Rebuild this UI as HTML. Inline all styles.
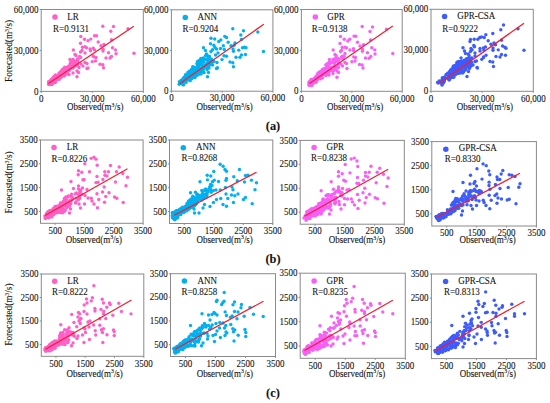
<!DOCTYPE html>
<html><head><meta charset="utf-8"><style>
html,body{margin:0;padding:0;background:#fff;}
svg{display:block;}
text{stroke:#141414;stroke-width:0.1px;}
</style></head><body>
<svg width="550" height="403" viewBox="0 0 550 403" font-family='"Liberation Serif", serif' font-size="9.7" fill="#141414">
<rect width="550" height="403" fill="#fff"/>
<rect x="41.2" y="9.5" width="102.1" height="81.9" fill="none" stroke="#8a8a8a" stroke-width="1"/>
<line x1="39.7" y1="91.4" x2="41.2" y2="91.4" stroke="#8a8a8a" stroke-width="1"/>
<text transform="translate(38.4,94.5) scale(0.9278,1)" text-anchor="end">0</text>
<line x1="39.7" y1="50.45" x2="41.2" y2="50.45" stroke="#8a8a8a" stroke-width="1"/>
<text transform="translate(38.4,53.55) scale(0.9278,1)" text-anchor="end">30,000</text>
<line x1="39.7" y1="9.5" x2="41.2" y2="9.5" stroke="#8a8a8a" stroke-width="1"/>
<text transform="translate(38.4,12.6) scale(0.9278,1)" text-anchor="end">60,000</text>
<line x1="41.2" y1="91.4" x2="41.2" y2="92.9" stroke="#8a8a8a" stroke-width="1"/>
<text transform="translate(41.2,101.6) scale(0.9278,1)" text-anchor="middle">0</text>
<line x1="92.25" y1="91.4" x2="92.25" y2="92.9" stroke="#8a8a8a" stroke-width="1"/>
<text transform="translate(92.25,101.6) scale(0.9278,1)" text-anchor="middle">30,000</text>
<line x1="143.3" y1="91.4" x2="143.3" y2="92.9" stroke="#8a8a8a" stroke-width="1"/>
<text transform="translate(143.3,101.6) scale(0.9278,1)" text-anchor="middle">60,000</text>
<text transform="translate(95.25,110) scale(0.9278,1)" text-anchor="middle">Observed(m<tspan font-size="6.3" dy="-3.4">3</tspan><tspan dy="3.4">/s)</tspan></text>
<g fill="#ff5fc8"><circle cx="80.8" cy="36.5" r="1.7"/><circle cx="84.5" cy="39.2" r="1.7"/><circle cx="88" cy="40.8" r="1.7"/><circle cx="90.75" cy="39.1" r="1.7"/><circle cx="94.5" cy="35.8" r="1.7"/><circle cx="80.5" cy="43.2" r="1.7"/><circle cx="82.5" cy="47.2" r="1.7"/><circle cx="85" cy="46.8" r="1.7"/><circle cx="86.5" cy="47.8" r="1.7"/><circle cx="90" cy="49" r="1.7"/><circle cx="93.25" cy="48.25" r="1.7"/><circle cx="73.35" cy="50" r="1.7"/><circle cx="102.8" cy="26.2" r="1.7"/><circle cx="113.5" cy="26.5" r="1.7"/><circle cx="110.8" cy="31.2" r="1.7"/><circle cx="128" cy="28.8" r="1.7"/><circle cx="96.5" cy="35.8" r="1.7"/><circle cx="98.2" cy="42" r="1.7"/><circle cx="111.5" cy="39.8" r="1.7"/><circle cx="101" cy="45.8" r="1.7"/><circle cx="104" cy="44.5" r="1.7"/><circle cx="94.5" cy="49.85" r="1.7"/><circle cx="112.5" cy="47.8" r="1.7"/><circle cx="115.5" cy="49.85" r="1.7"/><circle cx="103" cy="49.2" r="1.7"/><circle cx="75" cy="54.5" r="1.7"/><circle cx="76" cy="55.5" r="1.7"/><circle cx="80.5" cy="52" r="1.7"/><circle cx="82" cy="50.5" r="1.7"/><circle cx="85" cy="53" r="1.7"/><circle cx="90.5" cy="50.8" r="1.7"/><circle cx="70" cy="59.5" r="1.7"/><circle cx="73" cy="59.5" r="1.7"/><circle cx="78" cy="59" r="1.7"/><circle cx="85" cy="62.5" r="1.7"/><circle cx="87" cy="63.5" r="1.7"/><circle cx="92.25" cy="61.62" r="1.7"/><circle cx="95.5" cy="61" r="1.7"/><circle cx="94" cy="56.9" r="1.7"/><circle cx="81" cy="64" r="1.7"/><circle cx="83" cy="66" r="1.7"/><circle cx="87" cy="68.5" r="1.7"/><circle cx="88" cy="68" r="1.7"/><circle cx="79" cy="67.5" r="1.7"/><circle cx="77" cy="71" r="1.7"/><circle cx="78.5" cy="72.5" r="1.7"/><circle cx="73" cy="73" r="1.7"/><circle cx="77" cy="76.8" r="1.7"/><circle cx="68" cy="74" r="1.7"/><circle cx="69" cy="74.5" r="1.7"/><circle cx="93" cy="56" r="1.7"/><circle cx="103" cy="51" r="1.7"/><circle cx="108.5" cy="52.8" r="1.7"/><circle cx="116" cy="53.8" r="1.7"/><circle cx="134" cy="53.2" r="1.7"/><circle cx="96" cy="57.5" r="1.7"/><circle cx="106" cy="58" r="1.7"/><circle cx="110" cy="58" r="1.7"/><circle cx="111.5" cy="56.5" r="1.7"/><circle cx="100" cy="64.2" r="1.7"/><circle cx="102.8" cy="64.8" r="1.7"/><circle cx="103.5" cy="67.8" r="1.7"/></g>
<g fill="#ff5fc8"><circle cx="49" cy="81.37" r="1.7"/><circle cx="60.92" cy="71.5" r="1.7"/><circle cx="77.61" cy="59.22" r="1.7"/><circle cx="52.09" cy="83.01" r="1.7"/><circle cx="49.95" cy="83.91" r="1.7"/><circle cx="50.36" cy="81.3" r="1.7"/><circle cx="64.66" cy="70.07" r="1.7"/><circle cx="51.14" cy="80.65" r="1.7"/><circle cx="56.59" cy="77.71" r="1.7"/><circle cx="51.63" cy="82.49" r="1.7"/><circle cx="73.07" cy="63.86" r="1.7"/><circle cx="49.59" cy="83.33" r="1.7"/><circle cx="74.83" cy="61.95" r="1.7"/><circle cx="60.94" cy="77.54" r="1.7"/><circle cx="73.92" cy="60.56" r="1.7"/><circle cx="49.25" cy="83.52" r="1.7"/><circle cx="50.14" cy="83.03" r="1.7"/><circle cx="51.2" cy="83.61" r="1.7"/><circle cx="70.39" cy="63.22" r="1.7"/><circle cx="57.63" cy="76.84" r="1.7"/><circle cx="52.43" cy="80.51" r="1.7"/><circle cx="64.69" cy="67.2" r="1.7"/><circle cx="50.52" cy="81.72" r="1.7"/><circle cx="52.6" cy="79.43" r="1.7"/><circle cx="64.73" cy="72.82" r="1.7"/><circle cx="62.02" cy="70.53" r="1.7"/><circle cx="56.87" cy="78.85" r="1.7"/><circle cx="49.38" cy="82.53" r="1.7"/><circle cx="73.32" cy="60.34" r="1.7"/><circle cx="54.1" cy="80.52" r="1.7"/><circle cx="60.87" cy="72.99" r="1.7"/><circle cx="63.6" cy="70.48" r="1.7"/><circle cx="72.86" cy="60.29" r="1.7"/><circle cx="51.06" cy="81.72" r="1.7"/><circle cx="58.47" cy="74.67" r="1.7"/><circle cx="64.36" cy="71.05" r="1.7"/><circle cx="51.34" cy="82.51" r="1.7"/><circle cx="59.04" cy="75.15" r="1.7"/><circle cx="75.69" cy="63.19" r="1.7"/><circle cx="54.51" cy="76.39" r="1.7"/><circle cx="65.18" cy="67.89" r="1.7"/><circle cx="51.03" cy="80.47" r="1.7"/><circle cx="52.3" cy="78.75" r="1.7"/><circle cx="67.44" cy="66.99" r="1.7"/><circle cx="57.1" cy="76.47" r="1.7"/><circle cx="73.78" cy="64.55" r="1.7"/><circle cx="59.4" cy="77.64" r="1.7"/><circle cx="55.64" cy="78.13" r="1.7"/><circle cx="53.82" cy="76.91" r="1.7"/><circle cx="71.64" cy="64.56" r="1.7"/><circle cx="69.08" cy="68.75" r="1.7"/><circle cx="57.57" cy="78.32" r="1.7"/><circle cx="53.23" cy="77.55" r="1.7"/><circle cx="54.09" cy="81.79" r="1.7"/><circle cx="54.53" cy="76.45" r="1.7"/><circle cx="48.88" cy="82.34" r="1.7"/><circle cx="65.02" cy="74.41" r="1.7"/><circle cx="73.15" cy="68.06" r="1.7"/><circle cx="58.37" cy="78.32" r="1.7"/><circle cx="51.13" cy="80.32" r="1.7"/><circle cx="50.77" cy="83.72" r="1.7"/><circle cx="52.36" cy="79.13" r="1.7"/><circle cx="77.89" cy="61.55" r="1.7"/><circle cx="53.54" cy="81.57" r="1.7"/><circle cx="62" cy="75.67" r="1.7"/><circle cx="59.85" cy="75.34" r="1.7"/><circle cx="53.23" cy="80.4" r="1.7"/><circle cx="51.71" cy="84.6" r="1.7"/><circle cx="80.75" cy="57.4" r="1.7"/><circle cx="73.83" cy="62.75" r="1.7"/><circle cx="62.56" cy="69.31" r="1.7"/><circle cx="51.21" cy="79.94" r="1.7"/><circle cx="52.73" cy="81.24" r="1.7"/><circle cx="49.06" cy="81.74" r="1.7"/><circle cx="76.43" cy="61.31" r="1.7"/><circle cx="59.33" cy="77.36" r="1.7"/><circle cx="52.87" cy="81.56" r="1.7"/><circle cx="50.58" cy="83.49" r="1.7"/><circle cx="50.33" cy="83.65" r="1.7"/><circle cx="51.46" cy="81.78" r="1.7"/><circle cx="51.62" cy="80.68" r="1.7"/><circle cx="53.85" cy="80.54" r="1.7"/><circle cx="62.39" cy="71.36" r="1.7"/><circle cx="56.15" cy="80.27" r="1.7"/><circle cx="50.64" cy="82.77" r="1.7"/><circle cx="60.71" cy="76.72" r="1.7"/><circle cx="61.22" cy="75.43" r="1.7"/><circle cx="69.31" cy="70.3" r="1.7"/><circle cx="50.39" cy="84.44" r="1.7"/><circle cx="65.47" cy="69.1" r="1.7"/><circle cx="53.78" cy="80.4" r="1.7"/><circle cx="54.72" cy="82.64" r="1.7"/><circle cx="74.07" cy="61.33" r="1.7"/><circle cx="56.36" cy="76.18" r="1.7"/><circle cx="59.18" cy="73.07" r="1.7"/><circle cx="50.87" cy="84.1" r="1.7"/><circle cx="50.21" cy="81.52" r="1.7"/><circle cx="51.86" cy="81.04" r="1.7"/><circle cx="51.75" cy="79.56" r="1.7"/><circle cx="55.11" cy="78" r="1.7"/><circle cx="77.28" cy="63.69" r="1.7"/><circle cx="71.23" cy="61.22" r="1.7"/><circle cx="55.73" cy="80.88" r="1.7"/><circle cx="58.22" cy="77.07" r="1.7"/><circle cx="54.16" cy="76.68" r="1.7"/><circle cx="77.09" cy="62.84" r="1.7"/><circle cx="65.33" cy="69.7" r="1.7"/><circle cx="74.85" cy="64.93" r="1.7"/><circle cx="50.86" cy="81.9" r="1.7"/><circle cx="52.92" cy="80.52" r="1.7"/><circle cx="50.59" cy="83.32" r="1.7"/><circle cx="55.96" cy="78.84" r="1.7"/><circle cx="51.41" cy="80.9" r="1.7"/><circle cx="68.93" cy="67.72" r="1.7"/><circle cx="69.2" cy="65.67" r="1.7"/><circle cx="59.15" cy="79.4" r="1.7"/><circle cx="76.02" cy="65.73" r="1.7"/><circle cx="55.43" cy="75" r="1.7"/><circle cx="65.62" cy="71.93" r="1.7"/><circle cx="69.98" cy="66.1" r="1.7"/><circle cx="77.59" cy="64.72" r="1.7"/><circle cx="66.84" cy="72.59" r="1.7"/><circle cx="60.97" cy="74.52" r="1.7"/><circle cx="55.47" cy="81.97" r="1.7"/><circle cx="60.27" cy="76.87" r="1.7"/><circle cx="63.44" cy="75.79" r="1.7"/><circle cx="65" cy="75" r="1.7"/><circle cx="52.33" cy="82.19" r="1.7"/><circle cx="60.15" cy="77.01" r="1.7"/><circle cx="71.16" cy="67.73" r="1.7"/><circle cx="71.31" cy="68.1" r="1.7"/><circle cx="48.88" cy="82.15" r="1.7"/><circle cx="55.31" cy="76.39" r="1.7"/><circle cx="50.86" cy="80.85" r="1.7"/><circle cx="48.67" cy="84.45" r="1.7"/><circle cx="52.2" cy="82.34" r="1.7"/><circle cx="64.59" cy="75.75" r="1.7"/><circle cx="49.53" cy="82.25" r="1.7"/><circle cx="56.95" cy="76.22" r="1.7"/><circle cx="72.31" cy="60.36" r="1.7"/><circle cx="71.18" cy="65.09" r="1.7"/><circle cx="61.24" cy="76.71" r="1.7"/><circle cx="51.08" cy="83.37" r="1.7"/><circle cx="58.2" cy="76.69" r="1.7"/><circle cx="68.77" cy="68.68" r="1.7"/><circle cx="59.63" cy="74.73" r="1.7"/><circle cx="79.68" cy="56.36" r="1.7"/><circle cx="76.36" cy="64.32" r="1.7"/><circle cx="49.65" cy="82.41" r="1.7"/><circle cx="53.79" cy="78.6" r="1.7"/><circle cx="74.71" cy="66.02" r="1.7"/><circle cx="52.12" cy="80.92" r="1.7"/><circle cx="49.7" cy="83.5" r="1.7"/><circle cx="54.44" cy="80.94" r="1.7"/><circle cx="67.17" cy="72.63" r="1.7"/><circle cx="52.44" cy="83.62" r="1.7"/><circle cx="49.03" cy="82.67" r="1.7"/><circle cx="51.87" cy="84.15" r="1.7"/><circle cx="66.07" cy="67.76" r="1.7"/><circle cx="52.07" cy="82.66" r="1.7"/><circle cx="54.37" cy="79.96" r="1.7"/></g>
<line x1="48.5" y1="83.5" x2="133.8" y2="26.2" stroke="#f01e2c" stroke-width="1.25"/>
<circle cx="55" cy="16.9" r="2.75" fill="#ff5fc8"/>
<text transform="translate(67.3,19.8) scale(0.9278,1)" text-anchor="start">LR</text>
<text transform="translate(53.1,31.6) scale(0.9278,1)" text-anchor="start">R=0.9131</text>
<rect x="171.4" y="9.8" width="101.5" height="81.4" fill="none" stroke="#8a8a8a" stroke-width="1"/>
<line x1="169.9" y1="91.2" x2="171.4" y2="91.2" stroke="#8a8a8a" stroke-width="1"/>
<text transform="translate(168.6,94.3) scale(0.9278,1)" text-anchor="end">0</text>
<line x1="169.9" y1="50.5" x2="171.4" y2="50.5" stroke="#8a8a8a" stroke-width="1"/>
<text transform="translate(168.6,53.6) scale(0.9278,1)" text-anchor="end">30,000</text>
<line x1="169.9" y1="9.8" x2="171.4" y2="9.8" stroke="#8a8a8a" stroke-width="1"/>
<text transform="translate(168.6,12.9) scale(0.9278,1)" text-anchor="end">60,000</text>
<line x1="171.4" y1="91.2" x2="171.4" y2="92.7" stroke="#8a8a8a" stroke-width="1"/>
<text transform="translate(171.4,101.4) scale(0.9278,1)" text-anchor="middle">0</text>
<line x1="222.15" y1="91.2" x2="222.15" y2="92.7" stroke="#8a8a8a" stroke-width="1"/>
<text transform="translate(222.15,101.4) scale(0.9278,1)" text-anchor="middle">30,000</text>
<line x1="272.9" y1="91.2" x2="272.9" y2="92.7" stroke="#8a8a8a" stroke-width="1"/>
<text transform="translate(272.9,101.4) scale(0.9278,1)" text-anchor="middle">60,000</text>
<text transform="translate(224.7,110) scale(0.9278,1)" text-anchor="middle">Observed(m<tspan font-size="6.3" dy="-3.4">3</tspan><tspan dy="3.4">/s)</tspan></text>
<g fill="#00b0f0"><circle cx="211" cy="38.2" r="1.7"/><circle cx="214.7" cy="39" r="1.7"/><circle cx="218.8" cy="41.5" r="1.7"/><circle cx="220.85" cy="39.9" r="1.7"/><circle cx="224.75" cy="36.35" r="1.7"/><circle cx="210.5" cy="43.8" r="1.7"/><circle cx="213.8" cy="45.2" r="1.7"/><circle cx="215" cy="47.5" r="1.7"/><circle cx="212.5" cy="49.75" r="1.7"/><circle cx="216.5" cy="49" r="1.7"/><circle cx="220.5" cy="48.5" r="1.7"/><circle cx="203.5" cy="47.8" r="1.7"/><circle cx="223.35" cy="45.8" r="1.7"/><circle cx="232.8" cy="28.8" r="1.7"/><circle cx="243.5" cy="30.8" r="1.7"/><circle cx="240.8" cy="35" r="1.7"/><circle cx="257.8" cy="32" r="1.7"/><circle cx="226.5" cy="37.5" r="1.7"/><circle cx="228.2" cy="42.2" r="1.7"/><circle cx="241.5" cy="39.5" r="1.7"/><circle cx="235" cy="43" r="1.7"/><circle cx="231" cy="45.8" r="1.7"/><circle cx="234" cy="45.2" r="1.7"/><circle cx="224.25" cy="49.5" r="1.7"/><circle cx="242.5" cy="47.8" r="1.7"/><circle cx="244.5" cy="47.2" r="1.7"/><circle cx="246" cy="47.8" r="1.7"/><circle cx="233" cy="49" r="1.7"/><circle cx="238.75" cy="50.15" r="1.7"/><circle cx="205.5" cy="50.5" r="1.7"/><circle cx="206.5" cy="54" r="1.7"/><circle cx="211" cy="51.5" r="1.7"/><circle cx="215.5" cy="55" r="1.7"/><circle cx="218" cy="53" r="1.7"/><circle cx="224" cy="55.75" r="1.7"/><circle cx="222" cy="59.58" r="1.7"/><circle cx="217" cy="62.5" r="1.7"/><circle cx="214" cy="61.5" r="1.7"/><circle cx="212.5" cy="65" r="1.7"/><circle cx="217.5" cy="67.8" r="1.7"/><circle cx="216.5" cy="68.5" r="1.7"/><circle cx="209" cy="68" r="1.7"/><circle cx="208.5" cy="72.5" r="1.7"/><circle cx="207" cy="69.5" r="1.7"/><circle cx="204" cy="72.5" r="1.7"/><circle cx="207.5" cy="76.8" r="1.7"/><circle cx="198" cy="74.5" r="1.7"/><circle cx="195" cy="77.5" r="1.7"/><circle cx="200" cy="73" r="1.7"/><circle cx="233.5" cy="51.2" r="1.7"/><circle cx="263.5" cy="51.5" r="1.7"/><circle cx="226.5" cy="56.2" r="1.7"/><circle cx="236" cy="57.2" r="1.7"/><circle cx="240" cy="57.2" r="1.7"/><circle cx="241.5" cy="55" r="1.7"/><circle cx="245.5" cy="54.5" r="1.7"/><circle cx="230" cy="62" r="1.7"/><circle cx="232.8" cy="62.8" r="1.7"/><circle cx="233.5" cy="66.8" r="1.7"/></g>
<g fill="#00b0f0"><circle cx="185.56" cy="75.21" r="1.7"/><circle cx="191.59" cy="75.87" r="1.7"/><circle cx="182.88" cy="79.46" r="1.7"/><circle cx="192.77" cy="68.42" r="1.7"/><circle cx="195.9" cy="69.36" r="1.7"/><circle cx="198.9" cy="68.65" r="1.7"/><circle cx="193.39" cy="69.94" r="1.7"/><circle cx="199.58" cy="64.02" r="1.7"/><circle cx="202.47" cy="69.45" r="1.7"/><circle cx="211.7" cy="62.98" r="1.7"/><circle cx="191.51" cy="74.75" r="1.7"/><circle cx="194.1" cy="74.77" r="1.7"/><circle cx="191.02" cy="73.78" r="1.7"/><circle cx="181.21" cy="80.46" r="1.7"/><circle cx="203.04" cy="60.77" r="1.7"/><circle cx="185.52" cy="76.98" r="1.7"/><circle cx="189.33" cy="75.62" r="1.7"/><circle cx="185.98" cy="80.58" r="1.7"/><circle cx="185.25" cy="76.8" r="1.7"/><circle cx="191.42" cy="69.74" r="1.7"/><circle cx="196.5" cy="70.58" r="1.7"/><circle cx="193.78" cy="77.27" r="1.7"/><circle cx="198.6" cy="73.18" r="1.7"/><circle cx="185.98" cy="82.4" r="1.7"/><circle cx="190.06" cy="78.29" r="1.7"/><circle cx="182.97" cy="81.3" r="1.7"/><circle cx="200.59" cy="63.49" r="1.7"/><circle cx="206.87" cy="63.2" r="1.7"/><circle cx="198.22" cy="66.43" r="1.7"/><circle cx="205.18" cy="59.55" r="1.7"/><circle cx="191.67" cy="71.06" r="1.7"/><circle cx="180.88" cy="82.53" r="1.7"/><circle cx="188.3" cy="78.3" r="1.7"/><circle cx="200.86" cy="58.5" r="1.7"/><circle cx="190.96" cy="76.35" r="1.7"/><circle cx="189.88" cy="78.58" r="1.7"/><circle cx="201.44" cy="60.86" r="1.7"/><circle cx="193.62" cy="72.11" r="1.7"/><circle cx="198.19" cy="63.88" r="1.7"/><circle cx="204.15" cy="66.54" r="1.7"/><circle cx="198.21" cy="67.25" r="1.7"/><circle cx="198.46" cy="67.06" r="1.7"/><circle cx="197.03" cy="63.97" r="1.7"/><circle cx="197.01" cy="74.53" r="1.7"/><circle cx="183.82" cy="77.72" r="1.7"/><circle cx="190.77" cy="77.3" r="1.7"/><circle cx="190.51" cy="74.41" r="1.7"/><circle cx="198.43" cy="69.51" r="1.7"/><circle cx="189.35" cy="71.2" r="1.7"/><circle cx="207.97" cy="63.09" r="1.7"/><circle cx="181.52" cy="80.24" r="1.7"/><circle cx="205.33" cy="59.55" r="1.7"/><circle cx="182.57" cy="82.56" r="1.7"/><circle cx="182.59" cy="82.4" r="1.7"/><circle cx="194.67" cy="72.9" r="1.7"/><circle cx="197.59" cy="63.24" r="1.7"/><circle cx="203.28" cy="68.98" r="1.7"/><circle cx="191.39" cy="78.2" r="1.7"/><circle cx="190.62" cy="75.84" r="1.7"/><circle cx="208.35" cy="56.31" r="1.7"/><circle cx="201.35" cy="70.92" r="1.7"/><circle cx="196.88" cy="70.84" r="1.7"/><circle cx="179.39" cy="81.69" r="1.7"/><circle cx="198.89" cy="63.02" r="1.7"/><circle cx="184.74" cy="77.32" r="1.7"/><circle cx="193.48" cy="69.96" r="1.7"/><circle cx="208.06" cy="62.88" r="1.7"/><circle cx="183.68" cy="84.69" r="1.7"/><circle cx="194.36" cy="67.25" r="1.7"/><circle cx="188.15" cy="72.53" r="1.7"/><circle cx="195.35" cy="67.79" r="1.7"/><circle cx="188.06" cy="72.45" r="1.7"/><circle cx="194.39" cy="74.37" r="1.7"/><circle cx="210.94" cy="59.09" r="1.7"/><circle cx="197.63" cy="69.54" r="1.7"/><circle cx="203.13" cy="65.9" r="1.7"/><circle cx="200.54" cy="60.88" r="1.7"/><circle cx="198.72" cy="60.94" r="1.7"/><circle cx="186.89" cy="75.56" r="1.7"/><circle cx="203.28" cy="60.1" r="1.7"/><circle cx="199.24" cy="60.7" r="1.7"/><circle cx="190.17" cy="80.67" r="1.7"/><circle cx="192" cy="72.76" r="1.7"/><circle cx="199.65" cy="62.16" r="1.7"/><circle cx="181.31" cy="83.55" r="1.7"/><circle cx="193.76" cy="75.59" r="1.7"/><circle cx="191.7" cy="78.75" r="1.7"/><circle cx="210.84" cy="63.02" r="1.7"/><circle cx="188.28" cy="75.74" r="1.7"/><circle cx="211.47" cy="59.32" r="1.7"/><circle cx="198.69" cy="72.69" r="1.7"/><circle cx="208.01" cy="58.08" r="1.7"/><circle cx="186.54" cy="77.75" r="1.7"/><circle cx="201.75" cy="71.81" r="1.7"/><circle cx="203.33" cy="69.38" r="1.7"/><circle cx="188.18" cy="79.95" r="1.7"/><circle cx="209.18" cy="65.58" r="1.7"/><circle cx="199.63" cy="65.24" r="1.7"/><circle cx="192.77" cy="66.81" r="1.7"/><circle cx="203.74" cy="57.96" r="1.7"/><circle cx="195.22" cy="75.81" r="1.7"/><circle cx="191.33" cy="72.75" r="1.7"/><circle cx="209.94" cy="62.67" r="1.7"/><circle cx="210.86" cy="64.14" r="1.7"/><circle cx="209.11" cy="59.74" r="1.7"/><circle cx="197.29" cy="68.38" r="1.7"/><circle cx="207.74" cy="67.51" r="1.7"/><circle cx="201.06" cy="73.97" r="1.7"/><circle cx="201" cy="68.46" r="1.7"/><circle cx="210.19" cy="61.9" r="1.7"/><circle cx="180.7" cy="82.62" r="1.7"/><circle cx="183.11" cy="80.02" r="1.7"/><circle cx="197.58" cy="61.4" r="1.7"/><circle cx="199.74" cy="63.96" r="1.7"/><circle cx="208.44" cy="65.63" r="1.7"/><circle cx="211.19" cy="59.72" r="1.7"/><circle cx="192.31" cy="70.52" r="1.7"/><circle cx="195.28" cy="71.24" r="1.7"/><circle cx="203.47" cy="62.42" r="1.7"/><circle cx="207.55" cy="56.06" r="1.7"/><circle cx="196.45" cy="75.17" r="1.7"/><circle cx="207.59" cy="64.49" r="1.7"/><circle cx="189.89" cy="71.34" r="1.7"/><circle cx="205.22" cy="67.03" r="1.7"/><circle cx="197.96" cy="65.13" r="1.7"/><circle cx="182.61" cy="82.96" r="1.7"/><circle cx="186" cy="77.45" r="1.7"/><circle cx="207.34" cy="60.26" r="1.7"/><circle cx="203.98" cy="67.28" r="1.7"/><circle cx="198.38" cy="74.49" r="1.7"/><circle cx="190.79" cy="75.31" r="1.7"/><circle cx="182.19" cy="83.67" r="1.7"/><circle cx="184.5" cy="81.14" r="1.7"/><circle cx="198.35" cy="71.62" r="1.7"/><circle cx="203.44" cy="68.3" r="1.7"/><circle cx="180.89" cy="80.58" r="1.7"/><circle cx="197.3" cy="63.32" r="1.7"/><circle cx="205.69" cy="55.5" r="1.7"/><circle cx="196.38" cy="73.92" r="1.7"/><circle cx="191.57" cy="69.98" r="1.7"/><circle cx="183.04" cy="84.65" r="1.7"/><circle cx="191.15" cy="75.61" r="1.7"/><circle cx="187.01" cy="76.52" r="1.7"/><circle cx="197.51" cy="72.29" r="1.7"/><circle cx="180.33" cy="82.03" r="1.7"/><circle cx="191.58" cy="74.28" r="1.7"/><circle cx="197.08" cy="75.03" r="1.7"/><circle cx="205.13" cy="65.44" r="1.7"/><circle cx="203.11" cy="58.15" r="1.7"/><circle cx="198.36" cy="66.25" r="1.7"/><circle cx="208.91" cy="62.48" r="1.7"/><circle cx="195.31" cy="74.99" r="1.7"/><circle cx="183.55" cy="78.18" r="1.7"/><circle cx="185.56" cy="74.77" r="1.7"/><circle cx="179.17" cy="84.29" r="1.7"/><circle cx="196.51" cy="68.25" r="1.7"/><circle cx="202.19" cy="65.41" r="1.7"/><circle cx="202.27" cy="61.77" r="1.7"/><circle cx="181.12" cy="82.45" r="1.7"/><circle cx="197.95" cy="67.44" r="1.7"/><circle cx="210.83" cy="60.07" r="1.7"/><circle cx="194.42" cy="75.39" r="1.7"/><circle cx="209.47" cy="56.44" r="1.7"/><circle cx="189.92" cy="78.38" r="1.7"/><circle cx="199.43" cy="64.09" r="1.7"/><circle cx="201.29" cy="62.24" r="1.7"/><circle cx="187.25" cy="75.84" r="1.7"/><circle cx="197.98" cy="68.72" r="1.7"/></g>
<line x1="180" y1="83.5" x2="263.8" y2="24.2" stroke="#f01e2c" stroke-width="1.25"/>
<circle cx="185.3" cy="17.5" r="2.75" fill="#00b0f0"/>
<text transform="translate(197.6,20) scale(0.9278,1)" text-anchor="start">ANN</text>
<text transform="translate(182.4,31.6) scale(0.9278,1)" text-anchor="start">R=0.9204</text>
<rect x="301.4" y="9.5" width="100.8" height="81.8" fill="none" stroke="#8a8a8a" stroke-width="1"/>
<line x1="299.9" y1="91.3" x2="301.4" y2="91.3" stroke="#8a8a8a" stroke-width="1"/>
<text transform="translate(298.6,94.4) scale(0.9278,1)" text-anchor="end">0</text>
<line x1="299.9" y1="50.4" x2="301.4" y2="50.4" stroke="#8a8a8a" stroke-width="1"/>
<text transform="translate(298.6,53.5) scale(0.9278,1)" text-anchor="end">30,000</text>
<line x1="299.9" y1="9.5" x2="301.4" y2="9.5" stroke="#8a8a8a" stroke-width="1"/>
<text transform="translate(298.6,12.6) scale(0.9278,1)" text-anchor="end">60,000</text>
<line x1="301.4" y1="91.3" x2="301.4" y2="92.8" stroke="#8a8a8a" stroke-width="1"/>
<text transform="translate(301.4,101.5) scale(0.9278,1)" text-anchor="middle">0</text>
<line x1="351.8" y1="91.3" x2="351.8" y2="92.8" stroke="#8a8a8a" stroke-width="1"/>
<text transform="translate(351.8,101.5) scale(0.9278,1)" text-anchor="middle">30,000</text>
<line x1="402.2" y1="91.3" x2="402.2" y2="92.8" stroke="#8a8a8a" stroke-width="1"/>
<text transform="translate(402.2,101.5) scale(0.9278,1)" text-anchor="middle">60,000</text>
<text transform="translate(355.2,110) scale(0.9278,1)" text-anchor="middle">Observed(m<tspan font-size="6.3" dy="-3.4">3</tspan><tspan dy="3.4">/s)</tspan></text>
<g fill="#f75ff7"><circle cx="340.5" cy="36.5" r="1.7"/><circle cx="344.2" cy="39.2" r="1.7"/><circle cx="347.8" cy="41" r="1.7"/><circle cx="349.8" cy="39.2" r="1.7"/><circle cx="354" cy="36.1" r="1.7"/><circle cx="340" cy="43.5" r="1.7"/><circle cx="342.2" cy="47.5" r="1.7"/><circle cx="345" cy="47.2" r="1.7"/><circle cx="346.5" cy="48" r="1.7"/><circle cx="349.9" cy="50" r="1.7"/><circle cx="353.5" cy="48.73" r="1.7"/><circle cx="333.2" cy="50" r="1.7"/><circle cx="362.2" cy="26.5" r="1.7"/><circle cx="372.5" cy="27" r="1.7"/><circle cx="370" cy="31.5" r="1.7"/><circle cx="386.5" cy="29.2" r="1.7"/><circle cx="355.8" cy="36.2" r="1.7"/><circle cx="357.5" cy="42.2" r="1.7"/><circle cx="370.5" cy="40" r="1.7"/><circle cx="360" cy="46" r="1.7"/><circle cx="363.5" cy="44.8" r="1.7"/><circle cx="371.8" cy="47.8" r="1.7"/><circle cx="374.75" cy="49.85" r="1.7"/><circle cx="362.5" cy="49.2" r="1.7"/><circle cx="335" cy="54.5" r="1.7"/><circle cx="336" cy="55.5" r="1.7"/><circle cx="340.5" cy="51.5" r="1.7"/><circle cx="341.5" cy="50.5" r="1.7"/><circle cx="345" cy="53.5" r="1.7"/><circle cx="329.5" cy="59.5" r="1.7"/><circle cx="333" cy="59.5" r="1.7"/><circle cx="338" cy="59" r="1.7"/><circle cx="345" cy="62.5" r="1.7"/><circle cx="346.5" cy="63.5" r="1.7"/><circle cx="351.88" cy="61.7" r="1.7"/><circle cx="355" cy="61" r="1.7"/><circle cx="353.75" cy="56.9" r="1.7"/><circle cx="341" cy="64" r="1.7"/><circle cx="342.5" cy="66" r="1.7"/><circle cx="347" cy="68.5" r="1.7"/><circle cx="338.5" cy="67.5" r="1.7"/><circle cx="337" cy="71" r="1.7"/><circle cx="338.5" cy="72.5" r="1.7"/><circle cx="333" cy="73.5" r="1.7"/><circle cx="337" cy="77.2" r="1.7"/><circle cx="328" cy="74" r="1.7"/><circle cx="329" cy="75" r="1.7"/><circle cx="353.5" cy="50.5" r="1.7"/><circle cx="362.5" cy="51.2" r="1.7"/><circle cx="367.5" cy="52.8" r="1.7"/><circle cx="375" cy="54" r="1.7"/><circle cx="392.8" cy="53.5" r="1.7"/><circle cx="355.5" cy="57.5" r="1.7"/><circle cx="365.5" cy="58" r="1.7"/><circle cx="369" cy="58.2" r="1.7"/><circle cx="370.8" cy="56.5" r="1.7"/><circle cx="359.5" cy="64.5" r="1.7"/><circle cx="362.2" cy="65" r="1.7"/><circle cx="363" cy="68" r="1.7"/></g>
<g fill="#f75ff7"><circle cx="322.32" cy="77.9" r="1.7"/><circle cx="317.13" cy="77.62" r="1.7"/><circle cx="314.17" cy="81.11" r="1.7"/><circle cx="321.78" cy="74.22" r="1.7"/><circle cx="311.24" cy="85.1" r="1.7"/><circle cx="330.14" cy="70.86" r="1.7"/><circle cx="318.39" cy="74.61" r="1.7"/><circle cx="324.58" cy="68.82" r="1.7"/><circle cx="312.8" cy="80.44" r="1.7"/><circle cx="327.32" cy="63.65" r="1.7"/><circle cx="335.55" cy="67.87" r="1.7"/><circle cx="327.72" cy="63.98" r="1.7"/><circle cx="325.69" cy="72.69" r="1.7"/><circle cx="324.04" cy="73.38" r="1.7"/><circle cx="334.09" cy="67.8" r="1.7"/><circle cx="309.68" cy="81.86" r="1.7"/><circle cx="331.15" cy="62.16" r="1.7"/><circle cx="310.31" cy="81.93" r="1.7"/><circle cx="327.13" cy="74.02" r="1.7"/><circle cx="327.32" cy="68.25" r="1.7"/><circle cx="312.44" cy="80.28" r="1.7"/><circle cx="318.49" cy="74.85" r="1.7"/><circle cx="335.64" cy="68.57" r="1.7"/><circle cx="323.07" cy="69.11" r="1.7"/><circle cx="319.78" cy="76.8" r="1.7"/><circle cx="328.84" cy="67.38" r="1.7"/><circle cx="314.91" cy="79.1" r="1.7"/><circle cx="309.04" cy="83.5" r="1.7"/><circle cx="323.25" cy="69.29" r="1.7"/><circle cx="332.98" cy="62.24" r="1.7"/><circle cx="310.3" cy="82.11" r="1.7"/><circle cx="339.25" cy="59.03" r="1.7"/><circle cx="328.23" cy="72.13" r="1.7"/><circle cx="335.22" cy="68.68" r="1.7"/><circle cx="318.73" cy="72.89" r="1.7"/><circle cx="319.99" cy="76.95" r="1.7"/><circle cx="342.68" cy="58.88" r="1.7"/><circle cx="323.02" cy="70.04" r="1.7"/><circle cx="321.3" cy="75.73" r="1.7"/><circle cx="311.92" cy="81.34" r="1.7"/><circle cx="324.56" cy="74.69" r="1.7"/><circle cx="317.02" cy="78.01" r="1.7"/><circle cx="317.59" cy="77.03" r="1.7"/><circle cx="322.05" cy="69.93" r="1.7"/><circle cx="309.08" cy="85.23" r="1.7"/><circle cx="318.69" cy="74" r="1.7"/><circle cx="330.01" cy="62.8" r="1.7"/><circle cx="313.51" cy="78.83" r="1.7"/><circle cx="336.21" cy="66.81" r="1.7"/><circle cx="312.03" cy="82.9" r="1.7"/><circle cx="317.74" cy="79.25" r="1.7"/><circle cx="329.97" cy="70.35" r="1.7"/><circle cx="326.09" cy="71.57" r="1.7"/><circle cx="310.48" cy="84.83" r="1.7"/><circle cx="327.53" cy="67.33" r="1.7"/><circle cx="313.82" cy="79.88" r="1.7"/><circle cx="322.64" cy="73.22" r="1.7"/><circle cx="337.44" cy="61.38" r="1.7"/><circle cx="314.54" cy="80.29" r="1.7"/><circle cx="314.54" cy="78.53" r="1.7"/><circle cx="309.89" cy="83.35" r="1.7"/><circle cx="312.99" cy="83.06" r="1.7"/><circle cx="319.34" cy="77.06" r="1.7"/><circle cx="323.86" cy="73.84" r="1.7"/><circle cx="322.72" cy="71.04" r="1.7"/><circle cx="333.67" cy="70.58" r="1.7"/><circle cx="309.9" cy="83.49" r="1.7"/><circle cx="319.29" cy="72.85" r="1.7"/><circle cx="317.48" cy="77.42" r="1.7"/><circle cx="309.72" cy="82.71" r="1.7"/><circle cx="334.59" cy="68.93" r="1.7"/><circle cx="308.95" cy="82.07" r="1.7"/><circle cx="323.79" cy="69.76" r="1.7"/><circle cx="321.27" cy="73.26" r="1.7"/><circle cx="321.94" cy="71.33" r="1.7"/><circle cx="309.44" cy="84.68" r="1.7"/><circle cx="341.5" cy="56.96" r="1.7"/><circle cx="328.11" cy="73.57" r="1.7"/><circle cx="311.45" cy="83.39" r="1.7"/><circle cx="325.87" cy="75.56" r="1.7"/><circle cx="310.15" cy="84.16" r="1.7"/><circle cx="314.4" cy="79.97" r="1.7"/><circle cx="317.24" cy="76.53" r="1.7"/><circle cx="329.31" cy="62.21" r="1.7"/><circle cx="343.23" cy="57.95" r="1.7"/><circle cx="316.73" cy="78.43" r="1.7"/><circle cx="311.31" cy="81.67" r="1.7"/><circle cx="315.75" cy="77.82" r="1.7"/><circle cx="337.6" cy="61.73" r="1.7"/><circle cx="342.53" cy="56.19" r="1.7"/><circle cx="319.37" cy="76.06" r="1.7"/><circle cx="310.49" cy="83.33" r="1.7"/><circle cx="320.3" cy="71.89" r="1.7"/><circle cx="328.86" cy="68.81" r="1.7"/><circle cx="314.77" cy="81.52" r="1.7"/><circle cx="327.77" cy="64.46" r="1.7"/><circle cx="311.5" cy="82.02" r="1.7"/><circle cx="319.77" cy="72.03" r="1.7"/><circle cx="309.82" cy="84.02" r="1.7"/><circle cx="338.49" cy="64.37" r="1.7"/><circle cx="328.31" cy="71.07" r="1.7"/><circle cx="312.38" cy="81.6" r="1.7"/><circle cx="310.99" cy="81.07" r="1.7"/><circle cx="326.13" cy="68.44" r="1.7"/><circle cx="313.75" cy="81.38" r="1.7"/><circle cx="312.36" cy="84.39" r="1.7"/><circle cx="320.69" cy="73.48" r="1.7"/><circle cx="326.98" cy="64.53" r="1.7"/><circle cx="310.58" cy="81.43" r="1.7"/><circle cx="317.11" cy="79.98" r="1.7"/><circle cx="320.53" cy="78.81" r="1.7"/><circle cx="326.98" cy="65.82" r="1.7"/><circle cx="324.68" cy="71.84" r="1.7"/><circle cx="320.74" cy="75.89" r="1.7"/><circle cx="314.51" cy="82.42" r="1.7"/><circle cx="335.68" cy="58.98" r="1.7"/><circle cx="318.05" cy="77.18" r="1.7"/><circle cx="316.84" cy="76.31" r="1.7"/><circle cx="327.46" cy="72.25" r="1.7"/><circle cx="344.04" cy="56.27" r="1.7"/><circle cx="334.63" cy="61.11" r="1.7"/><circle cx="334.61" cy="63.56" r="1.7"/><circle cx="316.37" cy="79.78" r="1.7"/><circle cx="325.82" cy="64.98" r="1.7"/><circle cx="330.71" cy="69.7" r="1.7"/><circle cx="326.36" cy="70.29" r="1.7"/><circle cx="335.02" cy="58.59" r="1.7"/><circle cx="327.32" cy="66.78" r="1.7"/><circle cx="315.94" cy="81.66" r="1.7"/><circle cx="321.59" cy="76.53" r="1.7"/><circle cx="310.85" cy="80.68" r="1.7"/><circle cx="327.32" cy="71.5" r="1.7"/><circle cx="332.74" cy="70.31" r="1.7"/><circle cx="330.87" cy="63.26" r="1.7"/><circle cx="315.94" cy="81.28" r="1.7"/><circle cx="312.98" cy="79.45" r="1.7"/><circle cx="318.11" cy="78.45" r="1.7"/><circle cx="328.45" cy="72.48" r="1.7"/><circle cx="311.13" cy="79.49" r="1.7"/><circle cx="338.08" cy="60.72" r="1.7"/><circle cx="313.81" cy="82.18" r="1.7"/><circle cx="311.87" cy="81.6" r="1.7"/><circle cx="325.56" cy="73.75" r="1.7"/><circle cx="311.08" cy="82.6" r="1.7"/><circle cx="317.73" cy="73.81" r="1.7"/><circle cx="330.73" cy="67.15" r="1.7"/><circle cx="333.47" cy="66.6" r="1.7"/><circle cx="337.14" cy="57.96" r="1.7"/><circle cx="315.45" cy="80.98" r="1.7"/><circle cx="311.85" cy="80.01" r="1.7"/><circle cx="334.77" cy="66" r="1.7"/><circle cx="320.92" cy="71.87" r="1.7"/><circle cx="319.86" cy="75.43" r="1.7"/><circle cx="316.02" cy="82.26" r="1.7"/><circle cx="320.99" cy="72.27" r="1.7"/><circle cx="310.76" cy="83.67" r="1.7"/><circle cx="318.34" cy="73.03" r="1.7"/><circle cx="314.39" cy="82.56" r="1.7"/><circle cx="320.38" cy="78.01" r="1.7"/><circle cx="334.34" cy="61.76" r="1.7"/><circle cx="327.97" cy="71.87" r="1.7"/><circle cx="328.5" cy="64.22" r="1.7"/><circle cx="314.65" cy="81.33" r="1.7"/><circle cx="314.75" cy="80.12" r="1.7"/><circle cx="311.71" cy="85.48" r="1.7"/><circle cx="324.18" cy="70.94" r="1.7"/><circle cx="316.74" cy="76.21" r="1.7"/><circle cx="330.65" cy="70.73" r="1.7"/><circle cx="318.84" cy="78.27" r="1.7"/><circle cx="338.3" cy="60.63" r="1.7"/><circle cx="326.85" cy="68.68" r="1.7"/><circle cx="310.35" cy="81.87" r="1.7"/><circle cx="315.9" cy="76.52" r="1.7"/><circle cx="330.87" cy="69.16" r="1.7"/><circle cx="323.26" cy="70.85" r="1.7"/></g>
<line x1="309.5" y1="83.5" x2="392.8" y2="26.0" stroke="#f01e2c" stroke-width="1.25"/>
<circle cx="315.3" cy="16.9" r="2.75" fill="#f75ff7"/>
<text transform="translate(327.3,19.8) scale(0.9278,1)" text-anchor="start">GPR</text>
<text transform="translate(311.7,31.6) scale(0.9278,1)" text-anchor="start">R=0.9138</text>
<rect x="431" y="9.3" width="102.3" height="82" fill="none" stroke="#8a8a8a" stroke-width="1"/>
<line x1="429.5" y1="91.3" x2="431" y2="91.3" stroke="#8a8a8a" stroke-width="1"/>
<text transform="translate(428.2,94.4) scale(0.9278,1)" text-anchor="end">0</text>
<line x1="429.5" y1="50.3" x2="431" y2="50.3" stroke="#8a8a8a" stroke-width="1"/>
<text transform="translate(428.2,53.4) scale(0.9278,1)" text-anchor="end">30,000</text>
<line x1="429.5" y1="9.3" x2="431" y2="9.3" stroke="#8a8a8a" stroke-width="1"/>
<text transform="translate(428.2,12.4) scale(0.9278,1)" text-anchor="end">60,000</text>
<line x1="431" y1="91.3" x2="431" y2="92.8" stroke="#8a8a8a" stroke-width="1"/>
<text transform="translate(431,101.5) scale(0.9278,1)" text-anchor="middle">0</text>
<line x1="482.15" y1="91.3" x2="482.15" y2="92.8" stroke="#8a8a8a" stroke-width="1"/>
<text transform="translate(482.15,101.5) scale(0.9278,1)" text-anchor="middle">30,000</text>
<line x1="533.3" y1="91.3" x2="533.3" y2="92.8" stroke="#8a8a8a" stroke-width="1"/>
<text transform="translate(533.3,101.5) scale(0.9278,1)" text-anchor="middle">60,000</text>
<text transform="translate(484.9,110) scale(0.9278,1)" text-anchor="middle">Observed(m<tspan font-size="6.3" dy="-3.4">3</tspan><tspan dy="3.4">/s)</tspan></text>
<g fill="#3d5cff"><circle cx="470.5" cy="39.5" r="1.7"/><circle cx="470" cy="41.5" r="1.7"/><circle cx="474.2" cy="39.2" r="1.7"/><circle cx="477.8" cy="39.2" r="1.7"/><circle cx="479.8" cy="37.5" r="1.7"/><circle cx="484.25" cy="37.5" r="1.7"/><circle cx="485.85" cy="34.65" r="1.7"/><circle cx="463" cy="47.8" r="1.7"/><circle cx="473.8" cy="45.5" r="1.7"/><circle cx="474.5" cy="46.8" r="1.7"/><circle cx="471" cy="48.5" r="1.7"/><circle cx="472.1" cy="49.85" r="1.7"/><circle cx="480" cy="48.5" r="1.7"/><circle cx="483.4" cy="47.9" r="1.7"/><circle cx="485.5" cy="47" r="1.7"/><circle cx="503.5" cy="25" r="1.7"/><circle cx="500.8" cy="29.8" r="1.7"/><circle cx="518" cy="28.8" r="1.7"/><circle cx="492.8" cy="33.5" r="1.7"/><circle cx="488.2" cy="40.8" r="1.7"/><circle cx="501.5" cy="40.2" r="1.7"/><circle cx="494" cy="43" r="1.7"/><circle cx="491" cy="44.2" r="1.7"/><circle cx="495.5" cy="44.8" r="1.7"/><circle cx="493" cy="48" r="1.7"/><circle cx="502.5" cy="46" r="1.7"/><circle cx="505" cy="47.2" r="1.7"/><circle cx="506" cy="48.2" r="1.7"/><circle cx="498.25" cy="49.85" r="1.7"/><circle cx="524" cy="50.3" r="1.7"/><circle cx="481.5" cy="37" r="1.7"/><circle cx="464.5" cy="51" r="1.7"/><circle cx="465.5" cy="53.5" r="1.7"/><circle cx="470.5" cy="51.5" r="1.7"/><circle cx="475" cy="53" r="1.7"/><circle cx="475" cy="56" r="1.7"/><circle cx="480" cy="51" r="1.7"/><circle cx="483.5" cy="57" r="1.7"/><circle cx="481.75" cy="59.35" r="1.7"/><circle cx="476.5" cy="61" r="1.7"/><circle cx="475" cy="61.5" r="1.7"/><circle cx="473" cy="65" r="1.7"/><circle cx="477" cy="67.5" r="1.7"/><circle cx="477.5" cy="68" r="1.7"/><circle cx="469" cy="66" r="1.7"/><circle cx="469.5" cy="68.5" r="1.7"/><circle cx="468.5" cy="71.5" r="1.7"/><circle cx="465.5" cy="69.5" r="1.7"/><circle cx="463.5" cy="72" r="1.7"/><circle cx="467" cy="76.5" r="1.7"/><circle cx="458" cy="73.5" r="1.7"/><circle cx="460" cy="73" r="1.7"/><circle cx="454" cy="77" r="1.7"/><circle cx="483.5" cy="57.5" r="1.7"/><circle cx="484" cy="50.2" r="1.7"/><circle cx="493" cy="50.2" r="1.7"/><circle cx="486" cy="55.2" r="1.7"/><circle cx="496" cy="56.5" r="1.7"/><circle cx="500" cy="57" r="1.7"/><circle cx="501.5" cy="54.5" r="1.7"/><circle cx="505.5" cy="55.2" r="1.7"/><circle cx="490" cy="61.5" r="1.7"/><circle cx="492.8" cy="62" r="1.7"/><circle cx="493.5" cy="66.5" r="1.7"/></g>
<g fill="#3d5cff"><circle cx="459.29" cy="65.95" r="1.7"/><circle cx="441.95" cy="85" r="1.7"/><circle cx="468.2" cy="58.28" r="1.7"/><circle cx="450.83" cy="73.43" r="1.7"/><circle cx="453.01" cy="67.05" r="1.7"/><circle cx="465.74" cy="69.3" r="1.7"/><circle cx="452.54" cy="72.87" r="1.7"/><circle cx="453.13" cy="70.02" r="1.7"/><circle cx="461.55" cy="71.87" r="1.7"/><circle cx="455.72" cy="70.24" r="1.7"/><circle cx="449.62" cy="77.69" r="1.7"/><circle cx="455.89" cy="64.85" r="1.7"/><circle cx="460.51" cy="65.23" r="1.7"/><circle cx="443.39" cy="82.91" r="1.7"/><circle cx="454.53" cy="72.6" r="1.7"/><circle cx="467.34" cy="61.36" r="1.7"/><circle cx="449.34" cy="73.01" r="1.7"/><circle cx="441.26" cy="81.52" r="1.7"/><circle cx="448.04" cy="75.32" r="1.7"/><circle cx="455.46" cy="68.88" r="1.7"/><circle cx="452.54" cy="76.12" r="1.7"/><circle cx="457.3" cy="63.91" r="1.7"/><circle cx="443.99" cy="77.47" r="1.7"/><circle cx="442.7" cy="82.47" r="1.7"/><circle cx="450.32" cy="73.12" r="1.7"/><circle cx="440.36" cy="82.06" r="1.7"/><circle cx="437.59" cy="82.35" r="1.7"/><circle cx="462.79" cy="62.35" r="1.7"/><circle cx="463.29" cy="65.91" r="1.7"/><circle cx="447.05" cy="78.23" r="1.7"/><circle cx="468.1" cy="65.54" r="1.7"/><circle cx="459.8" cy="72.46" r="1.7"/><circle cx="466.53" cy="58.75" r="1.7"/><circle cx="448.1" cy="72.94" r="1.7"/><circle cx="444.26" cy="80.07" r="1.7"/><circle cx="442.33" cy="77.65" r="1.7"/><circle cx="445.89" cy="74.94" r="1.7"/><circle cx="465.35" cy="66.52" r="1.7"/><circle cx="470.39" cy="62.89" r="1.7"/><circle cx="449.08" cy="79.94" r="1.7"/><circle cx="456.63" cy="69.31" r="1.7"/><circle cx="442.64" cy="80.9" r="1.7"/><circle cx="459.17" cy="63.39" r="1.7"/><circle cx="461.75" cy="61.32" r="1.7"/><circle cx="453.77" cy="65.89" r="1.7"/><circle cx="470.89" cy="66.25" r="1.7"/><circle cx="457.74" cy="68.45" r="1.7"/><circle cx="458.12" cy="70.66" r="1.7"/><circle cx="458.57" cy="61.48" r="1.7"/><circle cx="453.68" cy="69.97" r="1.7"/><circle cx="457.46" cy="67.48" r="1.7"/><circle cx="458.11" cy="69.69" r="1.7"/><circle cx="444.52" cy="78.13" r="1.7"/><circle cx="471.91" cy="57.94" r="1.7"/><circle cx="461.15" cy="68.83" r="1.7"/><circle cx="455.55" cy="70.28" r="1.7"/><circle cx="459.79" cy="64.96" r="1.7"/><circle cx="457" cy="62.3" r="1.7"/><circle cx="453.2" cy="70.69" r="1.7"/><circle cx="454.72" cy="66.98" r="1.7"/><circle cx="441.6" cy="82.61" r="1.7"/><circle cx="465.88" cy="66.51" r="1.7"/><circle cx="467.23" cy="60.99" r="1.7"/><circle cx="444.28" cy="81.14" r="1.7"/><circle cx="465.15" cy="68.16" r="1.7"/><circle cx="463.64" cy="64.6" r="1.7"/><circle cx="449.56" cy="79.22" r="1.7"/><circle cx="462.92" cy="71.2" r="1.7"/><circle cx="459.89" cy="65.85" r="1.7"/><circle cx="443.88" cy="81.42" r="1.7"/><circle cx="462.37" cy="67.98" r="1.7"/><circle cx="443.55" cy="81.11" r="1.7"/><circle cx="462.71" cy="71.08" r="1.7"/><circle cx="469.06" cy="55.47" r="1.7"/><circle cx="452.08" cy="72.23" r="1.7"/><circle cx="458.7" cy="62.62" r="1.7"/><circle cx="462.02" cy="62.89" r="1.7"/><circle cx="468.33" cy="53.95" r="1.7"/><circle cx="470.56" cy="61.76" r="1.7"/><circle cx="442.2" cy="84.57" r="1.7"/><circle cx="462.43" cy="71.54" r="1.7"/><circle cx="468.15" cy="67.12" r="1.7"/><circle cx="450.99" cy="74.31" r="1.7"/><circle cx="464.11" cy="60.55" r="1.7"/><circle cx="460.94" cy="61.73" r="1.7"/><circle cx="441.57" cy="81.52" r="1.7"/><circle cx="457.43" cy="62.92" r="1.7"/><circle cx="455.64" cy="70.32" r="1.7"/><circle cx="469.38" cy="64.62" r="1.7"/><circle cx="448.88" cy="74.39" r="1.7"/><circle cx="453.75" cy="74.53" r="1.7"/><circle cx="441.75" cy="82.36" r="1.7"/><circle cx="443.48" cy="80.47" r="1.7"/><circle cx="463.26" cy="71.29" r="1.7"/><circle cx="457.95" cy="63.78" r="1.7"/><circle cx="449.12" cy="78.41" r="1.7"/><circle cx="456.27" cy="73.21" r="1.7"/><circle cx="455.35" cy="66.03" r="1.7"/><circle cx="442.58" cy="81.91" r="1.7"/><circle cx="470.04" cy="58.68" r="1.7"/><circle cx="451.77" cy="77.42" r="1.7"/><circle cx="447.29" cy="73.91" r="1.7"/><circle cx="448.72" cy="79.06" r="1.7"/><circle cx="465.5" cy="61.53" r="1.7"/><circle cx="465.6" cy="63.2" r="1.7"/><circle cx="458.87" cy="72.59" r="1.7"/><circle cx="462.56" cy="65.75" r="1.7"/><circle cx="438.22" cy="83.1" r="1.7"/><circle cx="451.37" cy="73.18" r="1.7"/><circle cx="441.99" cy="80.05" r="1.7"/><circle cx="464.35" cy="60.19" r="1.7"/><circle cx="453.55" cy="66.1" r="1.7"/><circle cx="471.59" cy="62.46" r="1.7"/><circle cx="451.97" cy="73.27" r="1.7"/><circle cx="459.21" cy="66.03" r="1.7"/><circle cx="449.77" cy="71.17" r="1.7"/><circle cx="459" cy="69.24" r="1.7"/><circle cx="454.1" cy="70.41" r="1.7"/><circle cx="459.62" cy="61.79" r="1.7"/><circle cx="459.74" cy="62.8" r="1.7"/><circle cx="455.59" cy="74.54" r="1.7"/><circle cx="467.41" cy="62.2" r="1.7"/><circle cx="454.09" cy="73.78" r="1.7"/><circle cx="471.04" cy="58.17" r="1.7"/><circle cx="469.01" cy="59.26" r="1.7"/><circle cx="450.73" cy="76.23" r="1.7"/><circle cx="448.15" cy="74.35" r="1.7"/><circle cx="465.23" cy="69.99" r="1.7"/><circle cx="457.04" cy="65.14" r="1.7"/><circle cx="454.89" cy="73.3" r="1.7"/><circle cx="444.42" cy="79.54" r="1.7"/><circle cx="439.13" cy="80.91" r="1.7"/><circle cx="469.69" cy="65.08" r="1.7"/><circle cx="453.18" cy="77.28" r="1.7"/><circle cx="461.35" cy="61.03" r="1.7"/><circle cx="446.82" cy="74.11" r="1.7"/><circle cx="448.88" cy="74.98" r="1.7"/><circle cx="467.86" cy="64.16" r="1.7"/><circle cx="470.28" cy="64.17" r="1.7"/><circle cx="461.04" cy="57.85" r="1.7"/><circle cx="462.54" cy="73.09" r="1.7"/><circle cx="441.49" cy="81.21" r="1.7"/><circle cx="444.6" cy="77.22" r="1.7"/><circle cx="458.26" cy="71.18" r="1.7"/><circle cx="454.55" cy="68.61" r="1.7"/><circle cx="454.31" cy="70.72" r="1.7"/><circle cx="440.8" cy="81.48" r="1.7"/><circle cx="450.84" cy="69.8" r="1.7"/><circle cx="452.12" cy="68.85" r="1.7"/><circle cx="460.56" cy="71.78" r="1.7"/><circle cx="469.63" cy="60.83" r="1.7"/></g>
<line x1="439" y1="83.5" x2="524" y2="23.2" stroke="#f01e2c" stroke-width="1.25"/>
<circle cx="444.6" cy="16.5" r="2.75" fill="#3d5cff"/>
<text transform="translate(457.2,19.4) scale(0.9278,1)" text-anchor="start">GPR-CSA</text>
<text transform="translate(442.2,31.6) scale(0.9278,1)" text-anchor="start">R=0.9222</text>
<text transform="translate(12.4,50.9) rotate(-90) scale(0.9278,1)" text-anchor="middle" font-size="9.92">Forecasted(m<tspan font-size="6.3" dy="-3.4">3</tspan><tspan dy="3.4">/s)</tspan></text>
<rect x="40.5" y="140" width="102.6" height="83.3" fill="none" stroke="#8a8a8a" stroke-width="1"/>
<line x1="39" y1="211.4" x2="40.5" y2="211.4" stroke="#8a8a8a" stroke-width="1"/>
<text transform="translate(37.7,214.5) scale(0.9278,1)" text-anchor="end">500</text>
<line x1="39" y1="187.6" x2="40.5" y2="187.6" stroke="#8a8a8a" stroke-width="1"/>
<text transform="translate(37.7,190.7) scale(0.9278,1)" text-anchor="end">1500</text>
<line x1="39" y1="163.8" x2="40.5" y2="163.8" stroke="#8a8a8a" stroke-width="1"/>
<text transform="translate(37.7,166.9) scale(0.9278,1)" text-anchor="end">2500</text>
<line x1="39" y1="140" x2="40.5" y2="140" stroke="#8a8a8a" stroke-width="1"/>
<text transform="translate(37.7,143.1) scale(0.9278,1)" text-anchor="end">3500</text>
<line x1="55.16" y1="223.3" x2="55.16" y2="224.8" stroke="#8a8a8a" stroke-width="1"/>
<text transform="translate(55.16,233.5) scale(0.9278,1)" text-anchor="middle">500</text>
<line x1="84.47" y1="223.3" x2="84.47" y2="224.8" stroke="#8a8a8a" stroke-width="1"/>
<text transform="translate(84.47,233.5) scale(0.9278,1)" text-anchor="middle">1500</text>
<line x1="113.79" y1="223.3" x2="113.79" y2="224.8" stroke="#8a8a8a" stroke-width="1"/>
<text transform="translate(113.79,233.5) scale(0.9278,1)" text-anchor="middle">2500</text>
<line x1="143.1" y1="223.3" x2="143.1" y2="224.8" stroke="#8a8a8a" stroke-width="1"/>
<text transform="translate(143.1,233.5) scale(0.9278,1)" text-anchor="middle">3500</text>
<text transform="translate(93.9,242.8) scale(0.9278,1)" text-anchor="middle">Observed(m<tspan font-size="6.3" dy="-3.4">3</tspan><tspan dy="3.4">/s)</tspan></text>
<g fill="#ff5fc8"><circle cx="91.15" cy="158.35" r="1.7"/><circle cx="94" cy="157.2" r="1.7"/><circle cx="96" cy="159.15" r="1.7"/><circle cx="84.8" cy="163.8" r="1.7"/><circle cx="78.5" cy="170.8" r="1.7"/><circle cx="81.8" cy="172.2" r="1.7"/><circle cx="89.5" cy="171.8" r="1.7"/><circle cx="78.2" cy="174.8" r="1.7"/><circle cx="84.1" cy="179.75" r="1.7"/><circle cx="83" cy="179.8" r="1.7"/><circle cx="97.2" cy="165.2" r="1.7"/><circle cx="110.5" cy="165.5" r="1.7"/><circle cx="119.2" cy="167" r="1.7"/><circle cx="104.8" cy="171.8" r="1.7"/><circle cx="108.5" cy="171.8" r="1.7"/><circle cx="116.5" cy="171.8" r="1.7"/><circle cx="122.8" cy="173.5" r="1.7"/><circle cx="105" cy="175.2" r="1.7"/><circle cx="107" cy="176" r="1.7"/><circle cx="97" cy="176.5" r="1.7"/><circle cx="127.5" cy="177.2" r="1.7"/><circle cx="102.9" cy="179.5" r="1.7"/><circle cx="71" cy="181.5" r="1.7"/><circle cx="61.5" cy="190" r="1.7"/><circle cx="73.5" cy="188.5" r="1.7"/><circle cx="78.5" cy="186" r="1.7"/><circle cx="78.5" cy="189" r="1.7"/><circle cx="82.5" cy="188" r="1.7"/><circle cx="87" cy="189.5" r="1.7"/><circle cx="96" cy="182.6" r="1.7"/><circle cx="85" cy="195.5" r="1.7"/><circle cx="88" cy="198" r="1.7"/><circle cx="91.25" cy="198.25" r="1.7"/><circle cx="92" cy="201" r="1.7"/><circle cx="94" cy="204" r="1.7"/><circle cx="75.5" cy="203" r="1.7"/><circle cx="79" cy="204" r="1.7"/><circle cx="84.5" cy="204" r="1.7"/><circle cx="80.5" cy="208" r="1.7"/><circle cx="70.5" cy="209" r="1.7"/><circle cx="69.5" cy="213" r="1.7"/><circle cx="78.5" cy="199.5" r="1.7"/><circle cx="98" cy="182.2" r="1.7"/><circle cx="115.5" cy="182" r="1.7"/><circle cx="126" cy="185.8" r="1.7"/><circle cx="104.2" cy="187" r="1.7"/><circle cx="102.5" cy="192" r="1.7"/><circle cx="97" cy="193.8" r="1.7"/><circle cx="109" cy="192.8" r="1.7"/><circle cx="105.8" cy="196.5" r="1.7"/><circle cx="114.5" cy="197" r="1.7"/><circle cx="116.8" cy="198.2" r="1.7"/><circle cx="98.8" cy="199.5" r="1.7"/><circle cx="104.5" cy="202.2" r="1.7"/><circle cx="97.5" cy="207.8" r="1.7"/><circle cx="123.2" cy="202.5" r="1.7"/></g>
<g fill="#ff5fc8"><circle cx="64.72" cy="199.6" r="1.7"/><circle cx="72.73" cy="198.06" r="1.7"/><circle cx="52.26" cy="214.44" r="1.7"/><circle cx="69.89" cy="200.95" r="1.7"/><circle cx="64.39" cy="204.63" r="1.7"/><circle cx="53.75" cy="209.48" r="1.7"/><circle cx="61.35" cy="208.42" r="1.7"/><circle cx="81.86" cy="194.19" r="1.7"/><circle cx="48.18" cy="211.39" r="1.7"/><circle cx="60.24" cy="212.01" r="1.7"/><circle cx="63.72" cy="200.99" r="1.7"/><circle cx="62.5" cy="212.85" r="1.7"/><circle cx="54.2" cy="210.96" r="1.7"/><circle cx="66.66" cy="207.2" r="1.7"/><circle cx="55.1" cy="206.38" r="1.7"/><circle cx="64.93" cy="199.09" r="1.7"/><circle cx="59.96" cy="209.3" r="1.7"/><circle cx="66.39" cy="204.93" r="1.7"/><circle cx="64.94" cy="205.19" r="1.7"/><circle cx="63.34" cy="209.89" r="1.7"/><circle cx="51.66" cy="217.05" r="1.7"/><circle cx="52.67" cy="212.36" r="1.7"/><circle cx="66.38" cy="199.12" r="1.7"/><circle cx="56.61" cy="210.18" r="1.7"/><circle cx="51.4" cy="210.39" r="1.7"/><circle cx="69.72" cy="201.54" r="1.7"/><circle cx="57.27" cy="208.91" r="1.7"/><circle cx="69.62" cy="206.08" r="1.7"/><circle cx="57.96" cy="212.59" r="1.7"/><circle cx="54.65" cy="208.94" r="1.7"/><circle cx="63.01" cy="208.83" r="1.7"/><circle cx="47.01" cy="213.12" r="1.7"/><circle cx="65.12" cy="201.24" r="1.7"/><circle cx="60.64" cy="210.74" r="1.7"/><circle cx="55.24" cy="210.99" r="1.7"/><circle cx="58.5" cy="207.44" r="1.7"/><circle cx="55.34" cy="211.78" r="1.7"/><circle cx="63.6" cy="201.46" r="1.7"/><circle cx="70.96" cy="200.97" r="1.7"/><circle cx="62.23" cy="206.25" r="1.7"/><circle cx="53.14" cy="214.85" r="1.7"/><circle cx="51.92" cy="212.64" r="1.7"/><circle cx="53.5" cy="212.34" r="1.7"/><circle cx="59.62" cy="206.49" r="1.7"/><circle cx="55.02" cy="209.04" r="1.7"/><circle cx="71.56" cy="194.2" r="1.7"/><circle cx="53.51" cy="214.56" r="1.7"/><circle cx="53.32" cy="213.28" r="1.7"/><circle cx="47.89" cy="212.66" r="1.7"/><circle cx="52.47" cy="214.12" r="1.7"/><circle cx="45.58" cy="218.31" r="1.7"/><circle cx="66" cy="203.37" r="1.7"/><circle cx="46.41" cy="216.92" r="1.7"/><circle cx="80.52" cy="190.75" r="1.7"/><circle cx="75.16" cy="194.02" r="1.7"/><circle cx="67.35" cy="207.17" r="1.7"/><circle cx="78.4" cy="194.36" r="1.7"/><circle cx="55.24" cy="212.89" r="1.7"/><circle cx="71.97" cy="199.67" r="1.7"/><circle cx="51.36" cy="211.85" r="1.7"/><circle cx="60.5" cy="202.96" r="1.7"/><circle cx="52.75" cy="212.12" r="1.7"/><circle cx="45.23" cy="218.38" r="1.7"/><circle cx="60.39" cy="211.95" r="1.7"/><circle cx="80.7" cy="189.94" r="1.7"/><circle cx="49.19" cy="212.67" r="1.7"/><circle cx="50.48" cy="210.86" r="1.7"/><circle cx="62.89" cy="205.03" r="1.7"/><circle cx="52.14" cy="212.85" r="1.7"/><circle cx="54.14" cy="212.19" r="1.7"/><circle cx="62.88" cy="212.31" r="1.7"/><circle cx="53.66" cy="208.22" r="1.7"/><circle cx="47.24" cy="215.21" r="1.7"/><circle cx="52.54" cy="212.76" r="1.7"/><circle cx="46.33" cy="217.16" r="1.7"/><circle cx="50.09" cy="210.33" r="1.7"/><circle cx="48.79" cy="214.58" r="1.7"/><circle cx="62.69" cy="206.98" r="1.7"/><circle cx="64.44" cy="198.52" r="1.7"/><circle cx="51.03" cy="213.85" r="1.7"/><circle cx="76.21" cy="198.11" r="1.7"/><circle cx="48.22" cy="216.73" r="1.7"/><circle cx="58.15" cy="207.86" r="1.7"/><circle cx="67.54" cy="196.94" r="1.7"/><circle cx="63.95" cy="210.93" r="1.7"/><circle cx="60.73" cy="204.42" r="1.7"/><circle cx="48.02" cy="217.17" r="1.7"/><circle cx="46.93" cy="213.74" r="1.7"/><circle cx="48.55" cy="212.93" r="1.7"/><circle cx="47.51" cy="217.34" r="1.7"/><circle cx="63.95" cy="210.48" r="1.7"/><circle cx="58.79" cy="210.53" r="1.7"/><circle cx="76.14" cy="201.67" r="1.7"/><circle cx="55.74" cy="211.07" r="1.7"/><circle cx="69.62" cy="200.72" r="1.7"/><circle cx="62.77" cy="210.05" r="1.7"/><circle cx="70.69" cy="196.08" r="1.7"/><circle cx="79.95" cy="192.27" r="1.7"/><circle cx="50.6" cy="214.61" r="1.7"/><circle cx="53.81" cy="209.57" r="1.7"/><circle cx="51.68" cy="211.51" r="1.7"/><circle cx="61.16" cy="205.27" r="1.7"/><circle cx="48.87" cy="217.9" r="1.7"/><circle cx="49.94" cy="213.06" r="1.7"/><circle cx="61.34" cy="212.43" r="1.7"/><circle cx="68.37" cy="195.84" r="1.7"/><circle cx="52.53" cy="214.42" r="1.7"/><circle cx="61.4" cy="212.39" r="1.7"/><circle cx="79.33" cy="195.2" r="1.7"/><circle cx="57.5" cy="208.31" r="1.7"/><circle cx="62.36" cy="210.6" r="1.7"/><circle cx="59.13" cy="205.11" r="1.7"/><circle cx="58.82" cy="210.58" r="1.7"/><circle cx="66" cy="200.73" r="1.7"/><circle cx="48.97" cy="215.02" r="1.7"/><circle cx="63.34" cy="203.1" r="1.7"/><circle cx="58.76" cy="206.9" r="1.7"/><circle cx="48.92" cy="215.48" r="1.7"/><circle cx="76.32" cy="193" r="1.7"/><circle cx="69.3" cy="204.36" r="1.7"/><circle cx="50.56" cy="213.2" r="1.7"/><circle cx="68.66" cy="201.93" r="1.7"/><circle cx="64.47" cy="210.55" r="1.7"/><circle cx="58.92" cy="208.1" r="1.7"/><circle cx="53.36" cy="212.27" r="1.7"/><circle cx="72.74" cy="197.78" r="1.7"/><circle cx="79.68" cy="198.41" r="1.7"/><circle cx="44.89" cy="215.89" r="1.7"/><circle cx="65.33" cy="209.93" r="1.7"/><circle cx="50.37" cy="213.56" r="1.7"/><circle cx="47.82" cy="213.58" r="1.7"/><circle cx="61.16" cy="203.05" r="1.7"/><circle cx="55.96" cy="212.8" r="1.7"/><circle cx="70.83" cy="203.8" r="1.7"/><circle cx="64.37" cy="211.32" r="1.7"/><circle cx="51.18" cy="212.05" r="1.7"/><circle cx="53.04" cy="210.22" r="1.7"/><circle cx="54.82" cy="210.64" r="1.7"/><circle cx="49.28" cy="211.11" r="1.7"/><circle cx="56.73" cy="206.22" r="1.7"/><circle cx="52.47" cy="209.89" r="1.7"/><circle cx="65.88" cy="196.84" r="1.7"/><circle cx="62.88" cy="206.96" r="1.7"/><circle cx="60.83" cy="209.2" r="1.7"/><circle cx="53.31" cy="214.08" r="1.7"/><circle cx="56.34" cy="212.27" r="1.7"/><circle cx="52.72" cy="210.12" r="1.7"/><circle cx="63.16" cy="210.22" r="1.7"/><circle cx="71.37" cy="197.21" r="1.7"/><circle cx="59.5" cy="212.2" r="1.7"/><circle cx="46.78" cy="213.46" r="1.7"/><circle cx="50.26" cy="213.7" r="1.7"/><circle cx="79.86" cy="191.06" r="1.7"/><circle cx="52.81" cy="214.94" r="1.7"/><circle cx="79.47" cy="196.43" r="1.7"/><circle cx="54.9" cy="212.77" r="1.7"/><circle cx="69.64" cy="204.44" r="1.7"/><circle cx="63.88" cy="205.53" r="1.7"/><circle cx="64.68" cy="204.31" r="1.7"/><circle cx="50.72" cy="212.03" r="1.7"/><circle cx="50.64" cy="211.21" r="1.7"/><circle cx="56.29" cy="212.5" r="1.7"/><circle cx="60.03" cy="211.21" r="1.7"/><circle cx="48.83" cy="215.96" r="1.7"/></g>
<line x1="45" y1="215.5" x2="127.5" y2="168.8" stroke="#f01e2c" stroke-width="1.25"/>
<circle cx="54" cy="147.5" r="2.75" fill="#ff5fc8"/>
<text transform="translate(66.8,150.2) scale(0.9278,1)" text-anchor="start">LR</text>
<text transform="translate(51.5,161.6) scale(0.9278,1)" text-anchor="start">R=0.8226</text>
<rect x="169.5" y="140" width="103.3" height="83.5" fill="none" stroke="#8a8a8a" stroke-width="1"/>
<line x1="168" y1="211.57" x2="169.5" y2="211.57" stroke="#8a8a8a" stroke-width="1"/>
<text transform="translate(166.7,214.67) scale(0.9278,1)" text-anchor="end">500</text>
<line x1="168" y1="187.71" x2="169.5" y2="187.71" stroke="#8a8a8a" stroke-width="1"/>
<text transform="translate(166.7,190.81) scale(0.9278,1)" text-anchor="end">1500</text>
<line x1="168" y1="163.86" x2="169.5" y2="163.86" stroke="#8a8a8a" stroke-width="1"/>
<text transform="translate(166.7,166.96) scale(0.9278,1)" text-anchor="end">2500</text>
<line x1="168" y1="140" x2="169.5" y2="140" stroke="#8a8a8a" stroke-width="1"/>
<text transform="translate(166.7,143.1) scale(0.9278,1)" text-anchor="end">3500</text>
<line x1="184.26" y1="223.5" x2="184.26" y2="225" stroke="#8a8a8a" stroke-width="1"/>
<text transform="translate(184.26,233.7) scale(0.9278,1)" text-anchor="middle">500</text>
<line x1="213.77" y1="223.5" x2="213.77" y2="225" stroke="#8a8a8a" stroke-width="1"/>
<text transform="translate(213.77,233.7) scale(0.9278,1)" text-anchor="middle">1500</text>
<line x1="243.29" y1="223.5" x2="243.29" y2="225" stroke="#8a8a8a" stroke-width="1"/>
<text transform="translate(243.29,233.7) scale(0.9278,1)" text-anchor="middle">2500</text>
<line x1="272.8" y1="223.5" x2="272.8" y2="225" stroke="#8a8a8a" stroke-width="1"/>
<text transform="translate(272.8,233.7) scale(0.9278,1)" text-anchor="middle">3500</text>
<text transform="translate(224.7,242.8) scale(0.9278,1)" text-anchor="middle">Observed(m<tspan font-size="6.3" dy="-3.4">3</tspan><tspan dy="3.4">/s)</tspan></text>
<g fill="#00b0f0"><circle cx="220.15" cy="164.2" r="1.7"/><circle cx="223.1" cy="166.2" r="1.7"/><circle cx="225" cy="169.5" r="1.7"/><circle cx="213.8" cy="171.5" r="1.7"/><circle cx="207.2" cy="175.2" r="1.7"/><circle cx="210.8" cy="176" r="1.7"/><circle cx="207.5" cy="179.85" r="1.7"/><circle cx="214.25" cy="180.15" r="1.7"/><circle cx="226.5" cy="171.2" r="1.7"/><circle cx="239.5" cy="169.5" r="1.7"/><circle cx="245.5" cy="175.5" r="1.7"/><circle cx="248" cy="175.2" r="1.7"/><circle cx="233.8" cy="176.8" r="1.7"/><circle cx="226.5" cy="178.5" r="1.7"/><circle cx="237.25" cy="180.75" r="1.7"/><circle cx="251.5" cy="180.15" r="1.7"/><circle cx="200" cy="181.8" r="1.7"/><circle cx="212.5" cy="181.8" r="1.7"/><circle cx="218.5" cy="181.5" r="1.7"/><circle cx="210.5" cy="184.5" r="1.7"/><circle cx="212" cy="185.5" r="1.7"/><circle cx="190.5" cy="192.8" r="1.7"/><circle cx="195.5" cy="192.2" r="1.7"/><circle cx="216" cy="190" r="1.7"/><circle cx="220.25" cy="189.9" r="1.7"/><circle cx="220.75" cy="198.5" r="1.7"/><circle cx="223" cy="204.5" r="1.7"/><circle cx="213.5" cy="202.5" r="1.7"/><circle cx="216.5" cy="199.5" r="1.7"/><circle cx="210" cy="206.5" r="1.7"/><circle cx="204.5" cy="204.5" r="1.7"/><circle cx="203" cy="208" r="1.7"/><circle cx="199" cy="213" r="1.7"/><circle cx="194.5" cy="213" r="1.7"/><circle cx="194" cy="209" r="1.7"/><circle cx="226" cy="180.2" r="1.7"/><circle cx="244.5" cy="182" r="1.7"/><circle cx="256.5" cy="182.8" r="1.7"/><circle cx="255" cy="189.8" r="1.7"/><circle cx="232" cy="187" r="1.7"/><circle cx="233" cy="189.8" r="1.7"/><circle cx="226" cy="194" r="1.7"/><circle cx="231.5" cy="195" r="1.7"/><circle cx="234.8" cy="195.8" r="1.7"/><circle cx="238" cy="194" r="1.7"/><circle cx="227.8" cy="198.5" r="1.7"/><circle cx="243.5" cy="199.5" r="1.7"/><circle cx="245.5" cy="197.5" r="1.7"/><circle cx="233.5" cy="202.5" r="1.7"/><circle cx="226.5" cy="206.2" r="1.7"/><circle cx="252.2" cy="203.8" r="1.7"/><circle cx="225.5" cy="187.5" r="1.7"/></g>
<g fill="#00b0f0"><circle cx="178.12" cy="210.68" r="1.7"/><circle cx="180.16" cy="212.81" r="1.7"/><circle cx="179.55" cy="212.59" r="1.7"/><circle cx="176.8" cy="211.33" r="1.7"/><circle cx="179.05" cy="211.4" r="1.7"/><circle cx="176.08" cy="215.03" r="1.7"/><circle cx="174.03" cy="216.91" r="1.7"/><circle cx="178.35" cy="213.79" r="1.7"/><circle cx="181.07" cy="210.89" r="1.7"/><circle cx="197.71" cy="200.66" r="1.7"/><circle cx="181.6" cy="211.83" r="1.7"/><circle cx="188.95" cy="209.31" r="1.7"/><circle cx="175.91" cy="218.22" r="1.7"/><circle cx="174.52" cy="215.11" r="1.7"/><circle cx="180.25" cy="211.86" r="1.7"/><circle cx="187.12" cy="209.16" r="1.7"/><circle cx="183.95" cy="209.13" r="1.7"/><circle cx="194.27" cy="201.61" r="1.7"/><circle cx="190.75" cy="205.04" r="1.7"/><circle cx="176.42" cy="217.42" r="1.7"/><circle cx="190.96" cy="202.81" r="1.7"/><circle cx="173.62" cy="215.24" r="1.7"/><circle cx="187.08" cy="206" r="1.7"/><circle cx="175.74" cy="213.01" r="1.7"/><circle cx="177.12" cy="212.87" r="1.7"/><circle cx="172.81" cy="215.99" r="1.7"/><circle cx="195.13" cy="200.52" r="1.7"/><circle cx="190.74" cy="202.08" r="1.7"/><circle cx="197.8" cy="199.67" r="1.7"/><circle cx="194" cy="201.92" r="1.7"/><circle cx="194.09" cy="200.93" r="1.7"/><circle cx="202.45" cy="193.55" r="1.7"/><circle cx="175" cy="215.21" r="1.7"/><circle cx="191.29" cy="204.62" r="1.7"/><circle cx="192.5" cy="203.45" r="1.7"/><circle cx="186.85" cy="209.05" r="1.7"/><circle cx="173.36" cy="216.6" r="1.7"/><circle cx="187.37" cy="204.29" r="1.7"/><circle cx="178.41" cy="213.09" r="1.7"/><circle cx="194.51" cy="205.68" r="1.7"/><circle cx="175.32" cy="217.86" r="1.7"/><circle cx="176.24" cy="210.83" r="1.7"/><circle cx="183.3" cy="212.17" r="1.7"/><circle cx="173.93" cy="218.78" r="1.7"/><circle cx="180.88" cy="214.46" r="1.7"/><circle cx="196.96" cy="202.42" r="1.7"/><circle cx="175.02" cy="212.03" r="1.7"/><circle cx="174.03" cy="212.79" r="1.7"/><circle cx="183.76" cy="208.91" r="1.7"/><circle cx="196.88" cy="199.11" r="1.7"/><circle cx="198.72" cy="199.74" r="1.7"/><circle cx="175.15" cy="218.22" r="1.7"/><circle cx="175.83" cy="216.81" r="1.7"/><circle cx="176.76" cy="214.93" r="1.7"/><circle cx="181.9" cy="208.42" r="1.7"/><circle cx="185.05" cy="206.35" r="1.7"/><circle cx="178.26" cy="214.37" r="1.7"/><circle cx="180.33" cy="213.88" r="1.7"/><circle cx="197.31" cy="198.85" r="1.7"/><circle cx="191.07" cy="204.59" r="1.7"/><circle cx="176.38" cy="213.59" r="1.7"/><circle cx="178.08" cy="214.88" r="1.7"/><circle cx="175.36" cy="217.73" r="1.7"/><circle cx="177.12" cy="210.8" r="1.7"/><circle cx="176.95" cy="210.5" r="1.7"/><circle cx="174.09" cy="213.29" r="1.7"/><circle cx="192.76" cy="207.11" r="1.7"/><circle cx="193.57" cy="202.47" r="1.7"/><circle cx="188.85" cy="206.33" r="1.7"/><circle cx="199.83" cy="197.36" r="1.7"/><circle cx="195.59" cy="204.24" r="1.7"/><circle cx="186.82" cy="210.92" r="1.7"/><circle cx="205.53" cy="194.94" r="1.7"/><circle cx="174.88" cy="219.85" r="1.7"/><circle cx="174.53" cy="213.5" r="1.7"/><circle cx="174.53" cy="219.17" r="1.7"/><circle cx="186.69" cy="206.98" r="1.7"/><circle cx="187.19" cy="205.96" r="1.7"/><circle cx="191.04" cy="204.05" r="1.7"/><circle cx="192.3" cy="206.11" r="1.7"/><circle cx="174.67" cy="215.32" r="1.7"/><circle cx="199.36" cy="195.4" r="1.7"/><circle cx="183.57" cy="211.68" r="1.7"/><circle cx="175.23" cy="216.48" r="1.7"/><circle cx="181.13" cy="209.71" r="1.7"/><circle cx="174.43" cy="218.6" r="1.7"/><circle cx="190.84" cy="207.26" r="1.7"/><circle cx="205.09" cy="194.46" r="1.7"/><circle cx="180.68" cy="211.32" r="1.7"/><circle cx="186.16" cy="208.67" r="1.7"/><circle cx="173.9" cy="214.17" r="1.7"/><circle cx="175.74" cy="211.45" r="1.7"/><circle cx="181.71" cy="212.14" r="1.7"/><circle cx="187.15" cy="205.54" r="1.7"/><circle cx="185.63" cy="209.88" r="1.7"/><circle cx="200.83" cy="196.19" r="1.7"/><circle cx="179.95" cy="214.15" r="1.7"/><circle cx="183.51" cy="209.28" r="1.7"/><circle cx="180.4" cy="209.06" r="1.7"/><circle cx="187.34" cy="208.57" r="1.7"/><circle cx="199.71" cy="197.27" r="1.7"/><circle cx="197.26" cy="198.9" r="1.7"/><circle cx="173.13" cy="212.41" r="1.7"/><circle cx="175.34" cy="217.9" r="1.7"/><circle cx="175.49" cy="216.7" r="1.7"/><circle cx="188.52" cy="204.01" r="1.7"/><circle cx="195.66" cy="197.9" r="1.7"/><circle cx="198.55" cy="196.13" r="1.7"/><circle cx="190.76" cy="201.67" r="1.7"/><circle cx="172.66" cy="215.27" r="1.7"/><circle cx="190.95" cy="202.18" r="1.7"/><circle cx="202.53" cy="194.17" r="1.7"/><circle cx="190.47" cy="203.75" r="1.7"/><circle cx="194.66" cy="203.62" r="1.7"/><circle cx="184.69" cy="211.09" r="1.7"/><circle cx="180.13" cy="213.96" r="1.7"/><circle cx="203.05" cy="196.42" r="1.7"/><circle cx="191.47" cy="203.54" r="1.7"/><circle cx="188.78" cy="205.43" r="1.7"/><circle cx="180.24" cy="209.97" r="1.7"/><circle cx="177.03" cy="216.76" r="1.7"/><circle cx="196.07" cy="203.73" r="1.7"/><circle cx="206.93" cy="194.51" r="1.7"/><circle cx="184.11" cy="212.21" r="1.7"/><circle cx="177.98" cy="212.27" r="1.7"/><circle cx="176.33" cy="211.99" r="1.7"/><circle cx="178.22" cy="210.5" r="1.7"/><circle cx="179.81" cy="210.27" r="1.7"/><circle cx="197.47" cy="197.6" r="1.7"/><circle cx="196.34" cy="200.88" r="1.7"/><circle cx="179.64" cy="209.51" r="1.7"/><circle cx="173.16" cy="216.58" r="1.7"/><circle cx="178.68" cy="212.86" r="1.7"/><circle cx="202.74" cy="198.58" r="1.7"/><circle cx="173.47" cy="215.5" r="1.7"/><circle cx="195.25" cy="202.36" r="1.7"/><circle cx="193.51" cy="205.29" r="1.7"/><circle cx="179.86" cy="209.77" r="1.7"/><circle cx="205.34" cy="194.11" r="1.7"/><circle cx="176.76" cy="213.72" r="1.7"/><circle cx="182.67" cy="207.12" r="1.7"/><circle cx="177.66" cy="217.69" r="1.7"/><circle cx="184.24" cy="208.49" r="1.7"/><circle cx="176.09" cy="212.6" r="1.7"/><circle cx="172.34" cy="217.06" r="1.7"/><circle cx="177.35" cy="211.3" r="1.7"/><circle cx="191.57" cy="206.93" r="1.7"/><circle cx="199.69" cy="195.55" r="1.7"/><circle cx="172.71" cy="217.93" r="1.7"/><circle cx="174.44" cy="213.96" r="1.7"/><circle cx="172.26" cy="212.73" r="1.7"/><circle cx="176" cy="211.94" r="1.7"/><circle cx="187.19" cy="206.24" r="1.7"/><circle cx="198.79" cy="196.49" r="1.7"/><circle cx="174.21" cy="213.17" r="1.7"/><circle cx="196.52" cy="200.03" r="1.7"/><circle cx="193.78" cy="201.21" r="1.7"/><circle cx="176.07" cy="212.77" r="1.7"/><circle cx="181.42" cy="208.28" r="1.7"/><circle cx="173.08" cy="215.45" r="1.7"/><circle cx="175.03" cy="214.92" r="1.7"/><circle cx="176.76" cy="211.6" r="1.7"/><circle cx="177.6" cy="216.35" r="1.7"/><circle cx="196.7" cy="199.6" r="1.7"/><circle cx="173.43" cy="217.6" r="1.7"/><circle cx="192.76" cy="201.7" r="1.7"/><circle cx="175.71" cy="213.91" r="1.7"/><circle cx="193.8" cy="202.34" r="1.7"/><circle cx="175.57" cy="216.25" r="1.7"/><circle cx="175.75" cy="213.17" r="1.7"/><circle cx="173.41" cy="212.59" r="1.7"/><circle cx="176.43" cy="218.1" r="1.7"/><circle cx="184.31" cy="209.19" r="1.7"/><circle cx="175.87" cy="212.94" r="1.7"/><circle cx="191.44" cy="205.6" r="1.7"/><circle cx="190.01" cy="207.21" r="1.7"/><circle cx="172.34" cy="215.59" r="1.7"/><circle cx="183.37" cy="211.05" r="1.7"/><circle cx="183.14" cy="208.4" r="1.7"/><circle cx="173.42" cy="215.21" r="1.7"/><circle cx="190.37" cy="205.24" r="1.7"/><circle cx="201.61" cy="199.96" r="1.7"/><circle cx="175.98" cy="212.6" r="1.7"/><circle cx="179.18" cy="214.66" r="1.7"/><circle cx="177.36" cy="211.24" r="1.7"/><circle cx="187.37" cy="204.61" r="1.7"/><circle cx="181.99" cy="211.5" r="1.7"/><circle cx="192.28" cy="201.35" r="1.7"/><circle cx="187.32" cy="206.02" r="1.7"/><circle cx="182.26" cy="208.83" r="1.7"/><circle cx="195.83" cy="204.2" r="1.7"/><circle cx="197.15" cy="195.29" r="1.7"/><circle cx="201.89" cy="198.24" r="1.7"/><circle cx="201.79" cy="190.43" r="1.7"/><circle cx="206.06" cy="189.12" r="1.7"/><circle cx="211.37" cy="190.83" r="1.7"/><circle cx="208.62" cy="189.8" r="1.7"/><circle cx="211.28" cy="192.21" r="1.7"/><circle cx="204.56" cy="190.67" r="1.7"/><circle cx="197.13" cy="194.17" r="1.7"/><circle cx="194.05" cy="199.37" r="1.7"/><circle cx="203.62" cy="190.87" r="1.7"/><circle cx="190.95" cy="200.93" r="1.7"/><circle cx="196.03" cy="199.1" r="1.7"/><circle cx="192.93" cy="198.71" r="1.7"/><circle cx="210.26" cy="187.87" r="1.7"/><circle cx="191.67" cy="198.66" r="1.7"/><circle cx="191.4" cy="202.97" r="1.7"/><circle cx="197.36" cy="194.71" r="1.7"/><circle cx="207.53" cy="190.18" r="1.7"/><circle cx="200.32" cy="198.4" r="1.7"/><circle cx="205.33" cy="189.11" r="1.7"/><circle cx="203.7" cy="198.11" r="1.7"/><circle cx="202.01" cy="197.95" r="1.7"/><circle cx="207.02" cy="192.66" r="1.7"/><circle cx="203.61" cy="196.71" r="1.7"/><circle cx="192.84" cy="196.26" r="1.7"/><circle cx="193.83" cy="200" r="1.7"/><circle cx="202.62" cy="194.08" r="1.7"/><circle cx="187.93" cy="203.67" r="1.7"/><circle cx="213.51" cy="190.4" r="1.7"/><circle cx="193.68" cy="202.39" r="1.7"/><circle cx="193.84" cy="199.26" r="1.7"/><circle cx="207.97" cy="191.66" r="1.7"/><circle cx="205.34" cy="195.81" r="1.7"/><circle cx="187.12" cy="203.22" r="1.7"/><circle cx="204.47" cy="196.25" r="1.7"/><circle cx="191.24" cy="199.33" r="1.7"/><circle cx="192.99" cy="197.84" r="1.7"/><circle cx="199.82" cy="195.71" r="1.7"/><circle cx="205.07" cy="189.88" r="1.7"/><circle cx="193.32" cy="200.64" r="1.7"/><circle cx="190.32" cy="199.96" r="1.7"/><circle cx="209.93" cy="188.73" r="1.7"/><circle cx="206.83" cy="195.89" r="1.7"/><circle cx="190.52" cy="199.97" r="1.7"/><circle cx="209.63" cy="186.85" r="1.7"/><circle cx="188.58" cy="201.04" r="1.7"/><circle cx="193.91" cy="197.4" r="1.7"/><circle cx="205.86" cy="197.19" r="1.7"/><circle cx="190.72" cy="199.98" r="1.7"/><circle cx="209.91" cy="189.77" r="1.7"/></g>
<line x1="174.2" y1="215.2" x2="256.5" y2="172.2" stroke="#f01e2c" stroke-width="1.25"/>
<circle cx="183.3" cy="147.79999999999998" r="2.75" fill="#00b0f0"/>
<text transform="translate(196.1,150.2) scale(0.9278,1)" text-anchor="start">ANN</text>
<text transform="translate(181.5,161.4) scale(0.9278,1)" text-anchor="start">R=0.8268</text>
<rect x="300.2" y="140.4" width="104.1" height="83.8" fill="none" stroke="#8a8a8a" stroke-width="1"/>
<line x1="298.7" y1="212.23" x2="300.2" y2="212.23" stroke="#8a8a8a" stroke-width="1"/>
<text transform="translate(297.4,215.33) scale(0.9278,1)" text-anchor="end">500</text>
<line x1="298.7" y1="188.29" x2="300.2" y2="188.29" stroke="#8a8a8a" stroke-width="1"/>
<text transform="translate(297.4,191.39) scale(0.9278,1)" text-anchor="end">1500</text>
<line x1="298.7" y1="164.34" x2="300.2" y2="164.34" stroke="#8a8a8a" stroke-width="1"/>
<text transform="translate(297.4,167.44) scale(0.9278,1)" text-anchor="end">2500</text>
<line x1="298.7" y1="140.4" x2="300.2" y2="140.4" stroke="#8a8a8a" stroke-width="1"/>
<text transform="translate(297.4,143.5) scale(0.9278,1)" text-anchor="end">3500</text>
<line x1="315.07" y1="224.2" x2="315.07" y2="225.7" stroke="#8a8a8a" stroke-width="1"/>
<text transform="translate(315.07,234.4) scale(0.9278,1)" text-anchor="middle">500</text>
<line x1="344.81" y1="224.2" x2="344.81" y2="225.7" stroke="#8a8a8a" stroke-width="1"/>
<text transform="translate(344.81,234.4) scale(0.9278,1)" text-anchor="middle">1500</text>
<line x1="374.56" y1="224.2" x2="374.56" y2="225.7" stroke="#8a8a8a" stroke-width="1"/>
<text transform="translate(374.56,234.4) scale(0.9278,1)" text-anchor="middle">2500</text>
<line x1="404.3" y1="224.2" x2="404.3" y2="225.7" stroke="#8a8a8a" stroke-width="1"/>
<text transform="translate(404.3,234.4) scale(0.9278,1)" text-anchor="middle">3500</text>
<text transform="translate(357,242.9) scale(0.9278,1)" text-anchor="middle">Observed(m<tspan font-size="6.3" dy="-3.4">3</tspan><tspan dy="3.4">/s)</tspan></text>
<g fill="#f75ff7"><circle cx="351.2" cy="159" r="1.7"/><circle cx="354.25" cy="158.1" r="1.7"/><circle cx="345.2" cy="164.5" r="1.7"/><circle cx="338.5" cy="171.8" r="1.7"/><circle cx="342.2" cy="173.8" r="1.7"/><circle cx="350" cy="172.9" r="1.7"/><circle cx="338.5" cy="176.2" r="1.7"/><circle cx="343.75" cy="180.15" r="1.7"/><circle cx="357" cy="161" r="1.7"/><circle cx="357.8" cy="166.5" r="1.7"/><circle cx="371" cy="166.2" r="1.7"/><circle cx="379.8" cy="168.2" r="1.7"/><circle cx="365.5" cy="172.5" r="1.7"/><circle cx="369.2" cy="172.2" r="1.7"/><circle cx="377.2" cy="172.2" r="1.7"/><circle cx="383.5" cy="174.2" r="1.7"/><circle cx="365.5" cy="176" r="1.7"/><circle cx="367.8" cy="177" r="1.7"/><circle cx="357.5" cy="177.5" r="1.7"/><circle cx="388.2" cy="178" r="1.7"/><circle cx="363.5" cy="180.15" r="1.7"/><circle cx="331.2" cy="181.8" r="1.7"/><circle cx="345.5" cy="181.2" r="1.7"/><circle cx="321.2" cy="190.8" r="1.7"/><circle cx="333.5" cy="189.2" r="1.7"/><circle cx="338.5" cy="187" r="1.7"/><circle cx="338.5" cy="189.5" r="1.7"/><circle cx="342.5" cy="188.5" r="1.7"/><circle cx="347" cy="190" r="1.7"/><circle cx="349" cy="189.5" r="1.7"/><circle cx="344.5" cy="198.5" r="1.7"/><circle cx="347.5" cy="199" r="1.7"/><circle cx="351.25" cy="198.9" r="1.7"/><circle cx="352.5" cy="201.9" r="1.7"/><circle cx="354.5" cy="204.9" r="1.7"/><circle cx="335" cy="203.8" r="1.7"/><circle cx="339.5" cy="204.5" r="1.7"/><circle cx="344.5" cy="204.8" r="1.7"/><circle cx="341" cy="209" r="1.7"/><circle cx="331" cy="210" r="1.7"/><circle cx="329.5" cy="214" r="1.7"/><circle cx="339" cy="201.5" r="1.7"/><circle cx="357" cy="183.2" r="1.7"/><circle cx="358.8" cy="183.5" r="1.7"/><circle cx="376.2" cy="182.8" r="1.7"/><circle cx="387" cy="186.5" r="1.7"/><circle cx="364.8" cy="188.2" r="1.7"/><circle cx="363" cy="192.8" r="1.7"/><circle cx="357.5" cy="194.5" r="1.7"/><circle cx="369.5" cy="194.2" r="1.7"/><circle cx="366.2" cy="197.5" r="1.7"/><circle cx="375.2" cy="197.8" r="1.7"/><circle cx="377.5" cy="198.8" r="1.7"/><circle cx="359.2" cy="200.2" r="1.7"/><circle cx="365" cy="203" r="1.7"/><circle cx="358" cy="208.5" r="1.7"/><circle cx="384" cy="203.2" r="1.7"/></g>
<g fill="#f75ff7"><circle cx="316.18" cy="206.96" r="1.7"/><circle cx="324.2" cy="209.66" r="1.7"/><circle cx="330.29" cy="195.85" r="1.7"/><circle cx="321.04" cy="204.15" r="1.7"/><circle cx="325.15" cy="202.12" r="1.7"/><circle cx="315.27" cy="207.58" r="1.7"/><circle cx="335.82" cy="202.24" r="1.7"/><circle cx="334.53" cy="202.92" r="1.7"/><circle cx="328.03" cy="194.8" r="1.7"/><circle cx="325.08" cy="200.08" r="1.7"/><circle cx="329.36" cy="207.67" r="1.7"/><circle cx="340.17" cy="192.28" r="1.7"/><circle cx="326.05" cy="195.58" r="1.7"/><circle cx="321.47" cy="203.97" r="1.7"/><circle cx="305.72" cy="215.53" r="1.7"/><circle cx="327.81" cy="200.01" r="1.7"/><circle cx="342.07" cy="192.68" r="1.7"/><circle cx="326.61" cy="205.75" r="1.7"/><circle cx="306.94" cy="217.95" r="1.7"/><circle cx="313.82" cy="212.52" r="1.7"/><circle cx="318.7" cy="206.35" r="1.7"/><circle cx="316.69" cy="209.21" r="1.7"/><circle cx="312.33" cy="215.73" r="1.7"/><circle cx="314.9" cy="209.97" r="1.7"/><circle cx="325.15" cy="203.41" r="1.7"/><circle cx="335.62" cy="198.62" r="1.7"/><circle cx="323.55" cy="203.23" r="1.7"/><circle cx="322.9" cy="199.77" r="1.7"/><circle cx="320.05" cy="206.71" r="1.7"/><circle cx="309.48" cy="217.88" r="1.7"/><circle cx="324.99" cy="204.3" r="1.7"/><circle cx="328.45" cy="201.94" r="1.7"/><circle cx="314.5" cy="211.78" r="1.7"/><circle cx="313.53" cy="212.8" r="1.7"/><circle cx="319.63" cy="204.63" r="1.7"/><circle cx="310.53" cy="211.6" r="1.7"/><circle cx="313.41" cy="215.43" r="1.7"/><circle cx="316.65" cy="213.26" r="1.7"/><circle cx="326.93" cy="195.27" r="1.7"/><circle cx="323.17" cy="198.95" r="1.7"/><circle cx="321.12" cy="213.93" r="1.7"/><circle cx="314.65" cy="213.01" r="1.7"/><circle cx="336.24" cy="197.43" r="1.7"/><circle cx="321.68" cy="209.89" r="1.7"/><circle cx="338.54" cy="192" r="1.7"/><circle cx="324.63" cy="202.24" r="1.7"/><circle cx="325.54" cy="207.28" r="1.7"/><circle cx="317.27" cy="210.12" r="1.7"/><circle cx="309.99" cy="210.12" r="1.7"/><circle cx="334.54" cy="193.42" r="1.7"/><circle cx="318.73" cy="203.67" r="1.7"/><circle cx="313.49" cy="208.54" r="1.7"/><circle cx="309.85" cy="215.96" r="1.7"/><circle cx="315" cy="208.25" r="1.7"/><circle cx="315.26" cy="207.93" r="1.7"/><circle cx="309.66" cy="211.11" r="1.7"/><circle cx="308.39" cy="217.2" r="1.7"/><circle cx="307.28" cy="218.15" r="1.7"/><circle cx="330" cy="195.37" r="1.7"/><circle cx="318.32" cy="206.66" r="1.7"/><circle cx="332.19" cy="194.36" r="1.7"/><circle cx="309.37" cy="210.21" r="1.7"/><circle cx="308.17" cy="215.86" r="1.7"/><circle cx="340.72" cy="195.23" r="1.7"/><circle cx="319.75" cy="211.78" r="1.7"/><circle cx="304" cy="217.99" r="1.7"/><circle cx="307.73" cy="218.28" r="1.7"/><circle cx="313.62" cy="211.94" r="1.7"/><circle cx="335.05" cy="192.78" r="1.7"/><circle cx="318.05" cy="208.17" r="1.7"/><circle cx="312.88" cy="213.51" r="1.7"/><circle cx="309.99" cy="210.88" r="1.7"/><circle cx="311.43" cy="210.38" r="1.7"/><circle cx="330.68" cy="205.5" r="1.7"/><circle cx="312.97" cy="212.39" r="1.7"/><circle cx="309.55" cy="214.02" r="1.7"/><circle cx="321.88" cy="212.05" r="1.7"/><circle cx="327.43" cy="198.66" r="1.7"/><circle cx="327.56" cy="206.92" r="1.7"/><circle cx="307.95" cy="214.63" r="1.7"/><circle cx="328.49" cy="208.01" r="1.7"/><circle cx="308.17" cy="216.96" r="1.7"/><circle cx="319" cy="205.82" r="1.7"/><circle cx="318.63" cy="208.83" r="1.7"/><circle cx="322.22" cy="209.94" r="1.7"/><circle cx="307.57" cy="213.28" r="1.7"/><circle cx="314.63" cy="212.56" r="1.7"/><circle cx="324.38" cy="206.12" r="1.7"/><circle cx="307.56" cy="211.93" r="1.7"/><circle cx="329.12" cy="194.92" r="1.7"/><circle cx="317.54" cy="212.41" r="1.7"/><circle cx="307.21" cy="211.58" r="1.7"/><circle cx="311.19" cy="211.84" r="1.7"/><circle cx="306.86" cy="215.82" r="1.7"/><circle cx="316.55" cy="212.32" r="1.7"/><circle cx="316.78" cy="210.32" r="1.7"/><circle cx="331.65" cy="196.17" r="1.7"/><circle cx="331.63" cy="199.74" r="1.7"/><circle cx="334.56" cy="197.39" r="1.7"/><circle cx="315.52" cy="215.55" r="1.7"/><circle cx="322.45" cy="208.81" r="1.7"/><circle cx="310.74" cy="216.2" r="1.7"/><circle cx="317.77" cy="210.89" r="1.7"/><circle cx="321.92" cy="211.38" r="1.7"/><circle cx="321.56" cy="209.23" r="1.7"/><circle cx="323.62" cy="205.55" r="1.7"/><circle cx="307.1" cy="211.87" r="1.7"/><circle cx="311.27" cy="212.18" r="1.7"/><circle cx="313.26" cy="213.84" r="1.7"/><circle cx="314.02" cy="210.85" r="1.7"/><circle cx="326.92" cy="202.44" r="1.7"/><circle cx="329.53" cy="205.82" r="1.7"/><circle cx="321.62" cy="204.79" r="1.7"/><circle cx="309.28" cy="216.79" r="1.7"/><circle cx="329.54" cy="202.04" r="1.7"/><circle cx="328.05" cy="194.58" r="1.7"/><circle cx="309.45" cy="217.34" r="1.7"/><circle cx="322.92" cy="201.61" r="1.7"/><circle cx="317.15" cy="214.82" r="1.7"/><circle cx="309.8" cy="213.55" r="1.7"/><circle cx="310.57" cy="216.07" r="1.7"/><circle cx="342.01" cy="195.91" r="1.7"/><circle cx="318.75" cy="212.62" r="1.7"/><circle cx="316.51" cy="210.44" r="1.7"/><circle cx="339.95" cy="191.44" r="1.7"/><circle cx="309.81" cy="213.85" r="1.7"/><circle cx="324.46" cy="200.56" r="1.7"/><circle cx="310.41" cy="211.04" r="1.7"/><circle cx="311.42" cy="213.74" r="1.7"/><circle cx="312.95" cy="211.55" r="1.7"/><circle cx="314" cy="212.01" r="1.7"/><circle cx="309.95" cy="218.49" r="1.7"/><circle cx="329.69" cy="195.67" r="1.7"/><circle cx="316.75" cy="208.48" r="1.7"/><circle cx="307.03" cy="218.67" r="1.7"/><circle cx="328.97" cy="200.07" r="1.7"/><circle cx="336.41" cy="191.15" r="1.7"/><circle cx="325.58" cy="201.72" r="1.7"/><circle cx="315.71" cy="210.69" r="1.7"/><circle cx="321.45" cy="202.7" r="1.7"/><circle cx="318.08" cy="213.98" r="1.7"/><circle cx="322.75" cy="201.78" r="1.7"/><circle cx="317.48" cy="213.23" r="1.7"/><circle cx="329.87" cy="199.73" r="1.7"/><circle cx="321.76" cy="209.89" r="1.7"/><circle cx="306.76" cy="212.53" r="1.7"/><circle cx="324.66" cy="205.35" r="1.7"/><circle cx="323.69" cy="207.59" r="1.7"/><circle cx="327.44" cy="207.9" r="1.7"/><circle cx="305.12" cy="215.93" r="1.7"/><circle cx="330.66" cy="203.64" r="1.7"/><circle cx="306.99" cy="216.89" r="1.7"/><circle cx="317.52" cy="207.55" r="1.7"/><circle cx="311.52" cy="208.72" r="1.7"/><circle cx="308.36" cy="214.75" r="1.7"/><circle cx="306.14" cy="220.26" r="1.7"/><circle cx="317.55" cy="206.09" r="1.7"/><circle cx="312.85" cy="213.74" r="1.7"/><circle cx="325.56" cy="202.81" r="1.7"/><circle cx="315.26" cy="208.69" r="1.7"/><circle cx="324.35" cy="205.24" r="1.7"/><circle cx="307.47" cy="215.2" r="1.7"/><circle cx="314.99" cy="210.36" r="1.7"/><circle cx="318.96" cy="208.92" r="1.7"/><circle cx="314.62" cy="215.96" r="1.7"/><circle cx="315.28" cy="212.27" r="1.7"/><circle cx="334.78" cy="200.22" r="1.7"/><circle cx="320.1" cy="203.28" r="1.7"/><circle cx="320.66" cy="209.47" r="1.7"/><circle cx="334.16" cy="198.36" r="1.7"/><circle cx="308.95" cy="216.89" r="1.7"/><circle cx="306.52" cy="215.72" r="1.7"/><circle cx="330.68" cy="196.86" r="1.7"/><circle cx="312.01" cy="210.98" r="1.7"/><circle cx="308.33" cy="215.73" r="1.7"/><circle cx="308.73" cy="216.62" r="1.7"/><circle cx="309" cy="211.85" r="1.7"/></g>
<line x1="304.5" y1="216.2" x2="388.2" y2="169.2" stroke="#f01e2c" stroke-width="1.25"/>
<circle cx="314.1" cy="147.5" r="2.75" fill="#f75ff7"/>
<text transform="translate(326.4,150.2) scale(0.9278,1)" text-anchor="start">GPR</text>
<text transform="translate(311.1,161.4) scale(0.9278,1)" text-anchor="start">R=0.8238</text>
<rect x="431.8" y="141.6" width="104.6" height="84.4" fill="none" stroke="#8a8a8a" stroke-width="1"/>
<line x1="430.3" y1="213.94" x2="431.8" y2="213.94" stroke="#8a8a8a" stroke-width="1"/>
<text transform="translate(429,217.04) scale(0.9278,1)" text-anchor="end">500</text>
<line x1="430.3" y1="189.83" x2="431.8" y2="189.83" stroke="#8a8a8a" stroke-width="1"/>
<text transform="translate(429,192.93) scale(0.9278,1)" text-anchor="end">1500</text>
<line x1="430.3" y1="165.71" x2="431.8" y2="165.71" stroke="#8a8a8a" stroke-width="1"/>
<text transform="translate(429,168.81) scale(0.9278,1)" text-anchor="end">2500</text>
<line x1="430.3" y1="141.6" x2="431.8" y2="141.6" stroke="#8a8a8a" stroke-width="1"/>
<text transform="translate(429,144.7) scale(0.9278,1)" text-anchor="end">3500</text>
<line x1="446.74" y1="226" x2="446.74" y2="227.5" stroke="#8a8a8a" stroke-width="1"/>
<text transform="translate(446.74,236.2) scale(0.9278,1)" text-anchor="middle">500</text>
<line x1="476.63" y1="226" x2="476.63" y2="227.5" stroke="#8a8a8a" stroke-width="1"/>
<text transform="translate(476.63,236.2) scale(0.9278,1)" text-anchor="middle">1500</text>
<line x1="506.51" y1="226" x2="506.51" y2="227.5" stroke="#8a8a8a" stroke-width="1"/>
<text transform="translate(506.51,236.2) scale(0.9278,1)" text-anchor="middle">2500</text>
<line x1="536.4" y1="226" x2="536.4" y2="227.5" stroke="#8a8a8a" stroke-width="1"/>
<text transform="translate(536.4,236.2) scale(0.9278,1)" text-anchor="middle">3500</text>
<text transform="translate(487.6,243) scale(0.9278,1)" text-anchor="middle">Observed(m<tspan font-size="6.3" dy="-3.4">3</tspan><tspan dy="3.4">/s)</tspan></text>
<g fill="#3d5cff"><circle cx="483.1" cy="163.9" r="1.7"/><circle cx="486.25" cy="165.65" r="1.7"/><circle cx="477" cy="168.8" r="1.7"/><circle cx="470.5" cy="175.2" r="1.7"/><circle cx="482" cy="179.1" r="1.7"/><circle cx="475" cy="181.5" r="1.7"/><circle cx="463" cy="182.5" r="1.7"/><circle cx="488.8" cy="171" r="1.7"/><circle cx="489.8" cy="174.8" r="1.7"/><circle cx="502.8" cy="170.5" r="1.7"/><circle cx="501.2" cy="174" r="1.7"/><circle cx="509.2" cy="174.8" r="1.7"/><circle cx="511.8" cy="175.2" r="1.7"/><circle cx="515" cy="176.5" r="1.7"/><circle cx="497" cy="177" r="1.7"/><circle cx="497.5" cy="179.5" r="1.7"/><circle cx="499.8" cy="179.5" r="1.7"/><circle cx="489.1" cy="182.15" r="1.7"/><circle cx="470" cy="184" r="1.7"/><circle cx="474" cy="183.5" r="1.7"/><circle cx="476.5" cy="186" r="1.7"/><circle cx="453" cy="191.5" r="1.7"/><circle cx="466" cy="191" r="1.7"/><circle cx="470.5" cy="190.5" r="1.7"/><circle cx="474.5" cy="189.2" r="1.7"/><circle cx="478.5" cy="191.5" r="1.7"/><circle cx="481" cy="191.2" r="1.7"/><circle cx="476" cy="200" r="1.7"/><circle cx="479" cy="201" r="1.7"/><circle cx="483.25" cy="200.25" r="1.7"/><circle cx="484.1" cy="202.5" r="1.7"/><circle cx="486" cy="205.5" r="1.7"/><circle cx="467" cy="204.8" r="1.7"/><circle cx="471" cy="205.5" r="1.7"/><circle cx="476.5" cy="205.5" r="1.7"/><circle cx="472.5" cy="209" r="1.7"/><circle cx="462.5" cy="211" r="1.7"/><circle cx="461.5" cy="215" r="1.7"/><circle cx="489" cy="185.5" r="1.7"/><circle cx="495.5" cy="184.5" r="1.7"/><circle cx="500" cy="188.5" r="1.7"/><circle cx="508.2" cy="187.5" r="1.7"/><circle cx="520" cy="183.8" r="1.7"/><circle cx="518.8" cy="187.2" r="1.7"/><circle cx="490" cy="189.2" r="1.7"/><circle cx="489.2" cy="195.2" r="1.7"/><circle cx="495" cy="195.5" r="1.7"/><circle cx="496.8" cy="194" r="1.7"/><circle cx="498" cy="198" r="1.7"/><circle cx="501.5" cy="199" r="1.7"/><circle cx="507.2" cy="200" r="1.7"/><circle cx="509.2" cy="199.2" r="1.7"/><circle cx="491.2" cy="200.2" r="1.7"/><circle cx="497" cy="203.2" r="1.7"/><circle cx="489.8" cy="208.8" r="1.7"/><circle cx="516" cy="203.8" r="1.7"/></g>
<g fill="#3d5cff"><circle cx="443.59" cy="216.04" r="1.7"/><circle cx="436.26" cy="216.35" r="1.7"/><circle cx="439.46" cy="215.17" r="1.7"/><circle cx="439.91" cy="215.01" r="1.7"/><circle cx="453.87" cy="211.23" r="1.7"/><circle cx="444.01" cy="215.76" r="1.7"/><circle cx="452.02" cy="209.46" r="1.7"/><circle cx="438.17" cy="218.62" r="1.7"/><circle cx="443.96" cy="217.51" r="1.7"/><circle cx="447.89" cy="211.72" r="1.7"/><circle cx="460.37" cy="204.86" r="1.7"/><circle cx="450.71" cy="211.17" r="1.7"/><circle cx="451.42" cy="211.5" r="1.7"/><circle cx="458.69" cy="208.19" r="1.7"/><circle cx="454.3" cy="205.89" r="1.7"/><circle cx="453.52" cy="209.83" r="1.7"/><circle cx="437.44" cy="219.02" r="1.7"/><circle cx="441.74" cy="213.88" r="1.7"/><circle cx="446.35" cy="213.35" r="1.7"/><circle cx="437.95" cy="217.92" r="1.7"/><circle cx="463.05" cy="204.9" r="1.7"/><circle cx="449.02" cy="213.36" r="1.7"/><circle cx="453.47" cy="210.86" r="1.7"/><circle cx="437.83" cy="218.07" r="1.7"/><circle cx="438.62" cy="219.36" r="1.7"/><circle cx="442.73" cy="215.76" r="1.7"/><circle cx="444.36" cy="214.45" r="1.7"/><circle cx="456.39" cy="205.77" r="1.7"/><circle cx="457.7" cy="206.89" r="1.7"/><circle cx="456.74" cy="208.38" r="1.7"/><circle cx="452.93" cy="209.64" r="1.7"/><circle cx="442.21" cy="216.14" r="1.7"/><circle cx="443.56" cy="215.85" r="1.7"/><circle cx="438.64" cy="220.55" r="1.7"/><circle cx="453.04" cy="209.79" r="1.7"/><circle cx="439.76" cy="216" r="1.7"/><circle cx="443.31" cy="214.21" r="1.7"/><circle cx="443.79" cy="217.37" r="1.7"/><circle cx="462.26" cy="205.03" r="1.7"/><circle cx="452.66" cy="211.68" r="1.7"/><circle cx="452.01" cy="211.79" r="1.7"/><circle cx="440.89" cy="216.79" r="1.7"/><circle cx="452.85" cy="209.27" r="1.7"/><circle cx="449.86" cy="211.6" r="1.7"/><circle cx="441.25" cy="217.92" r="1.7"/><circle cx="449.68" cy="211.24" r="1.7"/><circle cx="460.56" cy="205.31" r="1.7"/><circle cx="445.46" cy="214.63" r="1.7"/><circle cx="447.42" cy="209.79" r="1.7"/><circle cx="446.8" cy="214.42" r="1.7"/><circle cx="457.08" cy="206.7" r="1.7"/><circle cx="443.15" cy="218.01" r="1.7"/><circle cx="454.69" cy="206.74" r="1.7"/><circle cx="453.59" cy="208.3" r="1.7"/><circle cx="440.89" cy="215.83" r="1.7"/><circle cx="457.77" cy="205.97" r="1.7"/><circle cx="442.2" cy="216.27" r="1.7"/><circle cx="436.23" cy="216.7" r="1.7"/><circle cx="447.41" cy="213.16" r="1.7"/><circle cx="436.6" cy="217.87" r="1.7"/><circle cx="452.37" cy="209.97" r="1.7"/><circle cx="440.59" cy="216.3" r="1.7"/><circle cx="452.27" cy="211.44" r="1.7"/><circle cx="450.9" cy="213.82" r="1.7"/><circle cx="440.32" cy="216.86" r="1.7"/><circle cx="442.02" cy="215.83" r="1.7"/><circle cx="438.53" cy="218.29" r="1.7"/><circle cx="438.91" cy="220.29" r="1.7"/><circle cx="438.66" cy="218.51" r="1.7"/><circle cx="436.5" cy="216.98" r="1.7"/><circle cx="442.15" cy="215.72" r="1.7"/><circle cx="443.42" cy="214.95" r="1.7"/><circle cx="449.29" cy="213.15" r="1.7"/><circle cx="455.81" cy="207.53" r="1.7"/><circle cx="440.52" cy="214.61" r="1.7"/><circle cx="448.33" cy="214.29" r="1.7"/><circle cx="437.3" cy="218.62" r="1.7"/><circle cx="461.25" cy="205.63" r="1.7"/><circle cx="439.88" cy="218.35" r="1.7"/><circle cx="444.37" cy="216.83" r="1.7"/><circle cx="438.26" cy="215.98" r="1.7"/><circle cx="458.27" cy="207.77" r="1.7"/><circle cx="450.47" cy="209.07" r="1.7"/><circle cx="448.81" cy="214.11" r="1.7"/><circle cx="439.64" cy="215.9" r="1.7"/><circle cx="449.2" cy="211.36" r="1.7"/><circle cx="456.66" cy="206.26" r="1.7"/><circle cx="441.64" cy="216.53" r="1.7"/><circle cx="440.21" cy="219.79" r="1.7"/><circle cx="441.32" cy="213.68" r="1.7"/><circle cx="442.33" cy="213.5" r="1.7"/><circle cx="453.56" cy="209.53" r="1.7"/><circle cx="453.6" cy="208.37" r="1.7"/><circle cx="442.2" cy="215.28" r="1.7"/><circle cx="440.31" cy="216.81" r="1.7"/><circle cx="440.2" cy="218.62" r="1.7"/><circle cx="444.46" cy="213.76" r="1.7"/><circle cx="446.08" cy="216.65" r="1.7"/><circle cx="446.38" cy="214.52" r="1.7"/><circle cx="444.27" cy="213.58" r="1.7"/><circle cx="436.95" cy="216.54" r="1.7"/><circle cx="447.95" cy="213.5" r="1.7"/><circle cx="444.3" cy="216.88" r="1.7"/><circle cx="441.25" cy="216.56" r="1.7"/><circle cx="439.24" cy="214.61" r="1.7"/><circle cx="444.41" cy="214.65" r="1.7"/><circle cx="452.06" cy="208.75" r="1.7"/><circle cx="441.09" cy="215.67" r="1.7"/><circle cx="456.56" cy="205.74" r="1.7"/><circle cx="454.85" cy="209.57" r="1.7"/><circle cx="446.89" cy="212.95" r="1.7"/><circle cx="450.7" cy="209.66" r="1.7"/><circle cx="440.55" cy="216.58" r="1.7"/><circle cx="443.9" cy="213.38" r="1.7"/><circle cx="450.8" cy="210.3" r="1.7"/><circle cx="438.18" cy="217.82" r="1.7"/><circle cx="454.97" cy="210.56" r="1.7"/><circle cx="468.32" cy="197.8" r="1.7"/><circle cx="455.73" cy="198.4" r="1.7"/><circle cx="454.07" cy="205.66" r="1.7"/><circle cx="452.61" cy="203.72" r="1.7"/><circle cx="461.33" cy="199.68" r="1.7"/><circle cx="479.25" cy="191.07" r="1.7"/><circle cx="479.71" cy="191.51" r="1.7"/><circle cx="469.63" cy="194.32" r="1.7"/><circle cx="462.56" cy="199.01" r="1.7"/><circle cx="454.79" cy="200.61" r="1.7"/><circle cx="468.3" cy="200.51" r="1.7"/><circle cx="466.14" cy="200.93" r="1.7"/><circle cx="481.32" cy="192.09" r="1.7"/><circle cx="458.86" cy="200.55" r="1.7"/><circle cx="459.82" cy="203.69" r="1.7"/><circle cx="468.9" cy="195.32" r="1.7"/><circle cx="478.73" cy="192.54" r="1.7"/><circle cx="479.25" cy="190.54" r="1.7"/><circle cx="465.14" cy="196.28" r="1.7"/><circle cx="475.39" cy="197.49" r="1.7"/><circle cx="468.94" cy="197.35" r="1.7"/><circle cx="461.36" cy="198.23" r="1.7"/><circle cx="469.18" cy="194.3" r="1.7"/><circle cx="455.48" cy="200.82" r="1.7"/><circle cx="476.08" cy="191.6" r="1.7"/><circle cx="472.48" cy="197.79" r="1.7"/><circle cx="473.68" cy="190.49" r="1.7"/><circle cx="467.66" cy="201.06" r="1.7"/><circle cx="457.2" cy="205.1" r="1.7"/><circle cx="465.89" cy="200.26" r="1.7"/><circle cx="466.79" cy="198.33" r="1.7"/><circle cx="474.54" cy="195.66" r="1.7"/><circle cx="465.94" cy="197.86" r="1.7"/><circle cx="468.82" cy="192.76" r="1.7"/><circle cx="471.48" cy="195.96" r="1.7"/><circle cx="470.01" cy="191.97" r="1.7"/><circle cx="454" cy="203.5" r="1.7"/><circle cx="452.15" cy="205.14" r="1.7"/><circle cx="453.09" cy="202.54" r="1.7"/><circle cx="473.8" cy="197.37" r="1.7"/><circle cx="451.41" cy="204.88" r="1.7"/><circle cx="465.67" cy="199.09" r="1.7"/><circle cx="457.28" cy="198.74" r="1.7"/><circle cx="455.53" cy="201.98" r="1.7"/><circle cx="454.75" cy="202.55" r="1.7"/><circle cx="464.03" cy="193.8" r="1.7"/><circle cx="462.65" cy="196.03" r="1.7"/><circle cx="479.03" cy="193.59" r="1.7"/><circle cx="480.67" cy="191.66" r="1.7"/><circle cx="472.12" cy="199.5" r="1.7"/><circle cx="462.83" cy="201.25" r="1.7"/><circle cx="460.59" cy="199.25" r="1.7"/><circle cx="458.49" cy="201.88" r="1.7"/><circle cx="475.58" cy="190.81" r="1.7"/><circle cx="471.3" cy="191.52" r="1.7"/><circle cx="469.32" cy="191.68" r="1.7"/><circle cx="461.97" cy="198.97" r="1.7"/></g>
<line x1="436.5" y1="217.5" x2="520" y2="173.2" stroke="#f01e2c" stroke-width="1.25"/>
<circle cx="445.8" cy="149.29999999999998" r="2.75" fill="#3d5cff"/>
<text transform="translate(458.7,151.4) scale(0.9278,1)" text-anchor="start">GPR-CSA</text>
<text transform="translate(444.7,161.8) scale(0.9278,1)" text-anchor="start">R=0.8330</text>
<text transform="translate(12.4,182.4) rotate(-90) scale(0.9278,1)" text-anchor="middle" font-size="9.92">Forecasted(m<tspan font-size="6.3" dy="-3.4">3</tspan><tspan dy="3.4">/s)</tspan></text>
<rect x="41.3" y="274" width="102.5" height="82.3" fill="none" stroke="#8a8a8a" stroke-width="1"/>
<line x1="39.8" y1="344.54" x2="41.3" y2="344.54" stroke="#8a8a8a" stroke-width="1"/>
<text transform="translate(38.5,347.64) scale(0.9278,1)" text-anchor="end">500</text>
<line x1="39.8" y1="321.03" x2="41.3" y2="321.03" stroke="#8a8a8a" stroke-width="1"/>
<text transform="translate(38.5,324.13) scale(0.9278,1)" text-anchor="end">1500</text>
<line x1="39.8" y1="297.51" x2="41.3" y2="297.51" stroke="#8a8a8a" stroke-width="1"/>
<text transform="translate(38.5,300.61) scale(0.9278,1)" text-anchor="end">2500</text>
<line x1="39.8" y1="274" x2="41.3" y2="274" stroke="#8a8a8a" stroke-width="1"/>
<text transform="translate(38.5,277.1) scale(0.9278,1)" text-anchor="end">3500</text>
<line x1="55.94" y1="356.3" x2="55.94" y2="357.8" stroke="#8a8a8a" stroke-width="1"/>
<text transform="translate(55.94,366.5) scale(0.9278,1)" text-anchor="middle">500</text>
<line x1="85.23" y1="356.3" x2="85.23" y2="357.8" stroke="#8a8a8a" stroke-width="1"/>
<text transform="translate(85.23,366.5) scale(0.9278,1)" text-anchor="middle">1500</text>
<line x1="114.51" y1="356.3" x2="114.51" y2="357.8" stroke="#8a8a8a" stroke-width="1"/>
<text transform="translate(114.51,366.5) scale(0.9278,1)" text-anchor="middle">2500</text>
<line x1="143.8" y1="356.3" x2="143.8" y2="357.8" stroke="#8a8a8a" stroke-width="1"/>
<text transform="translate(143.8,366.5) scale(0.9278,1)" text-anchor="middle">3500</text>
<text transform="translate(94.7,376.5) scale(0.9278,1)" text-anchor="middle">Observed(m<tspan font-size="6.3" dy="-3.4">3</tspan><tspan dy="3.4">/s)</tspan></text>
<g fill="#ff5fc8"><circle cx="93.9" cy="285.8" r="1.7"/><circle cx="92.35" cy="297.65" r="1.7"/><circle cx="86.5" cy="299" r="1.7"/><circle cx="91.25" cy="300.9" r="1.7"/><circle cx="87" cy="303" r="1.7"/><circle cx="84.2" cy="305" r="1.7"/><circle cx="94.9" cy="308.5" r="1.7"/><circle cx="95" cy="311" r="1.7"/><circle cx="84" cy="311.5" r="1.7"/><circle cx="78.5" cy="312.5" r="1.7"/><circle cx="79.75" cy="313.85" r="1.7"/><circle cx="87" cy="314" r="1.7"/><circle cx="71.75" cy="314.4" r="1.7"/><circle cx="102.2" cy="299.2" r="1.7"/><circle cx="103.5" cy="303" r="1.7"/><circle cx="109.5" cy="303" r="1.7"/><circle cx="110.2" cy="304.5" r="1.7"/><circle cx="118.8" cy="303.2" r="1.7"/><circle cx="106.8" cy="307.2" r="1.7"/><circle cx="101" cy="309.5" r="1.7"/><circle cx="103.8" cy="311.5" r="1.7"/><circle cx="121.5" cy="311.5" r="1.7"/><circle cx="131" cy="313.85" r="1.7"/><circle cx="103.5" cy="313.7" r="1.7"/><circle cx="78" cy="317" r="1.7"/><circle cx="81" cy="318.5" r="1.7"/><circle cx="60.8" cy="324.8" r="1.7"/><circle cx="74" cy="322.5" r="1.7"/><circle cx="79" cy="321" r="1.7"/><circle cx="80" cy="319.5" r="1.7"/><circle cx="88" cy="322" r="1.7"/><circle cx="90" cy="321" r="1.7"/><circle cx="89" cy="327" r="1.7"/><circle cx="93.65" cy="325" r="1.7"/><circle cx="95.22" cy="330.73" r="1.7"/><circle cx="95.75" cy="334.95" r="1.7"/><circle cx="85" cy="329" r="1.7"/><circle cx="85.5" cy="332.5" r="1.7"/><circle cx="82.5" cy="335" r="1.7"/><circle cx="78" cy="336" r="1.7"/><circle cx="77" cy="338.5" r="1.7"/><circle cx="89.5" cy="339.5" r="1.7"/><circle cx="84" cy="342.5" r="1.7"/><circle cx="73" cy="343" r="1.7"/><circle cx="71.5" cy="345.8" r="1.7"/><circle cx="65" cy="344.5" r="1.7"/><circle cx="112.8" cy="315.2" r="1.7"/><circle cx="105.8" cy="318.5" r="1.7"/><circle cx="99.8" cy="318.8" r="1.7"/><circle cx="99.8" cy="325.2" r="1.7"/><circle cx="101.5" cy="329.8" r="1.7"/><circle cx="103.5" cy="328.8" r="1.7"/><circle cx="102.5" cy="332.5" r="1.7"/><circle cx="113.5" cy="330" r="1.7"/><circle cx="114.2" cy="331.5" r="1.7"/><circle cx="107" cy="334.8" r="1.7"/><circle cx="114.2" cy="335.5" r="1.7"/><circle cx="102.8" cy="342.5" r="1.7"/></g>
<g fill="#ff5fc8"><circle cx="51.73" cy="349.62" r="1.7"/><circle cx="51.19" cy="344.97" r="1.7"/><circle cx="60.85" cy="335.24" r="1.7"/><circle cx="68.78" cy="339.96" r="1.7"/><circle cx="47.85" cy="349.95" r="1.7"/><circle cx="51.92" cy="346.04" r="1.7"/><circle cx="57.87" cy="340.93" r="1.7"/><circle cx="54.17" cy="343.8" r="1.7"/><circle cx="61.95" cy="336.2" r="1.7"/><circle cx="74.36" cy="336.2" r="1.7"/><circle cx="48.56" cy="349.12" r="1.7"/><circle cx="50.95" cy="345.9" r="1.7"/><circle cx="73.09" cy="333.37" r="1.7"/><circle cx="64.83" cy="340.03" r="1.7"/><circle cx="53.1" cy="348.46" r="1.7"/><circle cx="62.37" cy="334.37" r="1.7"/><circle cx="58.99" cy="344.92" r="1.7"/><circle cx="61.92" cy="342.22" r="1.7"/><circle cx="61.89" cy="334.25" r="1.7"/><circle cx="61.82" cy="342.89" r="1.7"/><circle cx="80.24" cy="323.44" r="1.7"/><circle cx="61.89" cy="335.77" r="1.7"/><circle cx="54.73" cy="340.88" r="1.7"/><circle cx="45.35" cy="348.04" r="1.7"/><circle cx="53.8" cy="344.42" r="1.7"/><circle cx="61.63" cy="334.92" r="1.7"/><circle cx="47.23" cy="348.5" r="1.7"/><circle cx="67.06" cy="331.85" r="1.7"/><circle cx="49.28" cy="347.15" r="1.7"/><circle cx="63.68" cy="340.18" r="1.7"/><circle cx="69.06" cy="327.69" r="1.7"/><circle cx="56.97" cy="341.11" r="1.7"/><circle cx="62.91" cy="332.45" r="1.7"/><circle cx="72.46" cy="334.73" r="1.7"/><circle cx="51.4" cy="349.75" r="1.7"/><circle cx="48.81" cy="346.56" r="1.7"/><circle cx="49.87" cy="346.84" r="1.7"/><circle cx="66.43" cy="335.32" r="1.7"/><circle cx="51.13" cy="344.3" r="1.7"/><circle cx="59.79" cy="335.87" r="1.7"/><circle cx="51.84" cy="345.43" r="1.7"/><circle cx="49.8" cy="348.61" r="1.7"/><circle cx="56.41" cy="344.55" r="1.7"/><circle cx="83.99" cy="327.85" r="1.7"/><circle cx="45.56" cy="348.04" r="1.7"/><circle cx="52.39" cy="345.1" r="1.7"/><circle cx="52.2" cy="346.32" r="1.7"/><circle cx="48.02" cy="346.44" r="1.7"/><circle cx="47.31" cy="349.96" r="1.7"/><circle cx="67.41" cy="334.26" r="1.7"/><circle cx="55.74" cy="345.42" r="1.7"/><circle cx="48.36" cy="350.71" r="1.7"/><circle cx="48.66" cy="349.85" r="1.7"/><circle cx="50.5" cy="343.94" r="1.7"/><circle cx="47.76" cy="350.06" r="1.7"/><circle cx="73.04" cy="334.36" r="1.7"/><circle cx="69.19" cy="335.62" r="1.7"/><circle cx="47.91" cy="347.63" r="1.7"/><circle cx="58.5" cy="342.73" r="1.7"/><circle cx="59.58" cy="337.88" r="1.7"/><circle cx="55.05" cy="348.27" r="1.7"/><circle cx="54.48" cy="345.67" r="1.7"/><circle cx="55.25" cy="343.38" r="1.7"/><circle cx="49.57" cy="349.94" r="1.7"/><circle cx="47.12" cy="349.43" r="1.7"/><circle cx="71.54" cy="334.44" r="1.7"/><circle cx="49.39" cy="345.93" r="1.7"/><circle cx="51.61" cy="348.61" r="1.7"/><circle cx="54.26" cy="341.39" r="1.7"/><circle cx="50.11" cy="348.97" r="1.7"/><circle cx="49.59" cy="344.6" r="1.7"/><circle cx="51.65" cy="348.16" r="1.7"/><circle cx="67.49" cy="335.45" r="1.7"/><circle cx="50.72" cy="346.69" r="1.7"/><circle cx="48.91" cy="348.08" r="1.7"/><circle cx="67.64" cy="333.24" r="1.7"/><circle cx="61.52" cy="335.02" r="1.7"/><circle cx="54.45" cy="344.32" r="1.7"/><circle cx="57.66" cy="341.75" r="1.7"/><circle cx="69.65" cy="331.59" r="1.7"/><circle cx="63.64" cy="341.61" r="1.7"/><circle cx="54.11" cy="344.17" r="1.7"/><circle cx="59.9" cy="335.43" r="1.7"/><circle cx="51.1" cy="348.06" r="1.7"/><circle cx="48.42" cy="348.82" r="1.7"/><circle cx="59.94" cy="340.15" r="1.7"/><circle cx="63.42" cy="336.58" r="1.7"/><circle cx="54.11" cy="347.38" r="1.7"/><circle cx="49.46" cy="347.51" r="1.7"/><circle cx="61.52" cy="341.46" r="1.7"/><circle cx="64.6" cy="329.79" r="1.7"/><circle cx="52.64" cy="346.67" r="1.7"/><circle cx="55.4" cy="346.31" r="1.7"/><circle cx="51.3" cy="347.18" r="1.7"/><circle cx="68" cy="342.61" r="1.7"/><circle cx="45.82" cy="351.33" r="1.7"/><circle cx="72.56" cy="332.76" r="1.7"/><circle cx="52.14" cy="346.53" r="1.7"/><circle cx="59.13" cy="344.1" r="1.7"/><circle cx="55.69" cy="341.46" r="1.7"/><circle cx="76.77" cy="326.79" r="1.7"/><circle cx="61.8" cy="337.76" r="1.7"/><circle cx="62.95" cy="337.71" r="1.7"/><circle cx="51.92" cy="346.68" r="1.7"/><circle cx="66.66" cy="335.5" r="1.7"/><circle cx="62.51" cy="344.27" r="1.7"/><circle cx="53.76" cy="347.26" r="1.7"/><circle cx="72.98" cy="332.37" r="1.7"/><circle cx="66.21" cy="339.58" r="1.7"/><circle cx="60.54" cy="332.99" r="1.7"/><circle cx="48.52" cy="349.35" r="1.7"/><circle cx="50.22" cy="350.74" r="1.7"/><circle cx="50.82" cy="346.84" r="1.7"/><circle cx="45.55" cy="348.49" r="1.7"/><circle cx="59.79" cy="341.81" r="1.7"/><circle cx="54.77" cy="345.48" r="1.7"/><circle cx="45.07" cy="350.35" r="1.7"/><circle cx="46.29" cy="348.04" r="1.7"/><circle cx="55.13" cy="345.28" r="1.7"/><circle cx="55.8" cy="341.43" r="1.7"/><circle cx="57.61" cy="345.16" r="1.7"/><circle cx="50.39" cy="345.99" r="1.7"/><circle cx="52.15" cy="342.46" r="1.7"/><circle cx="67.24" cy="342.23" r="1.7"/><circle cx="54.59" cy="346.23" r="1.7"/><circle cx="63.04" cy="333.65" r="1.7"/><circle cx="61.26" cy="343.56" r="1.7"/><circle cx="52.57" cy="349.13" r="1.7"/><circle cx="51.7" cy="347.96" r="1.7"/><circle cx="63.52" cy="342.52" r="1.7"/><circle cx="59.81" cy="339.59" r="1.7"/><circle cx="54.17" cy="342.44" r="1.7"/><circle cx="66.89" cy="337.24" r="1.7"/><circle cx="66.05" cy="334.42" r="1.7"/><circle cx="45.51" cy="349.43" r="1.7"/><circle cx="50.61" cy="348.08" r="1.7"/><circle cx="51.59" cy="346.25" r="1.7"/><circle cx="52.36" cy="347.52" r="1.7"/><circle cx="67.4" cy="329.71" r="1.7"/><circle cx="71.43" cy="332.13" r="1.7"/><circle cx="45.8" cy="350.48" r="1.7"/><circle cx="66.95" cy="338.23" r="1.7"/><circle cx="45.02" cy="348.86" r="1.7"/></g>
<line x1="45.5" y1="349.2" x2="131.5" y2="300" stroke="#f01e2c" stroke-width="1.25"/>
<circle cx="54.7" cy="281.2" r="2.75" fill="#ff5fc8"/>
<text transform="translate(67.3,284) scale(0.9278,1)" text-anchor="start">LR</text>
<text transform="translate(52,295) scale(0.9278,1)" text-anchor="start">R=0.8222</text>
<rect x="170.5" y="273.7" width="105" height="82.8" fill="none" stroke="#8a8a8a" stroke-width="1"/>
<line x1="169" y1="344.67" x2="170.5" y2="344.67" stroke="#8a8a8a" stroke-width="1"/>
<text transform="translate(167.7,347.77) scale(0.9278,1)" text-anchor="end">500</text>
<line x1="169" y1="321.01" x2="170.5" y2="321.01" stroke="#8a8a8a" stroke-width="1"/>
<text transform="translate(167.7,324.11) scale(0.9278,1)" text-anchor="end">1500</text>
<line x1="169" y1="297.36" x2="170.5" y2="297.36" stroke="#8a8a8a" stroke-width="1"/>
<text transform="translate(167.7,300.46) scale(0.9278,1)" text-anchor="end">2500</text>
<line x1="169" y1="273.7" x2="170.5" y2="273.7" stroke="#8a8a8a" stroke-width="1"/>
<text transform="translate(167.7,276.8) scale(0.9278,1)" text-anchor="end">3500</text>
<line x1="185.5" y1="356.5" x2="185.5" y2="358" stroke="#8a8a8a" stroke-width="1"/>
<text transform="translate(185.5,366.7) scale(0.9278,1)" text-anchor="middle">500</text>
<line x1="215.5" y1="356.5" x2="215.5" y2="358" stroke="#8a8a8a" stroke-width="1"/>
<text transform="translate(215.5,366.7) scale(0.9278,1)" text-anchor="middle">1500</text>
<line x1="245.5" y1="356.5" x2="245.5" y2="358" stroke="#8a8a8a" stroke-width="1"/>
<text transform="translate(245.5,366.7) scale(0.9278,1)" text-anchor="middle">2500</text>
<line x1="275.5" y1="356.5" x2="275.5" y2="358" stroke="#8a8a8a" stroke-width="1"/>
<text transform="translate(275.5,366.7) scale(0.9278,1)" text-anchor="middle">3500</text>
<text transform="translate(224.8,376.5) scale(0.9278,1)" text-anchor="middle">Observed(m<tspan font-size="6.3" dy="-3.4">3</tspan><tspan dy="3.4">/s)</tspan></text>
<g fill="#00b0f0"><circle cx="224.25" cy="292.5" r="1.7"/><circle cx="217" cy="300.2" r="1.7"/><circle cx="216.5" cy="301.5" r="1.7"/><circle cx="222.75" cy="302.65" r="1.7"/><circle cx="221.65" cy="304.5" r="1.7"/><circle cx="224" cy="301.2" r="1.7"/><circle cx="202" cy="313.7" r="1.7"/><circle cx="214" cy="312.5" r="1.7"/><circle cx="215" cy="313.5" r="1.7"/><circle cx="225.15" cy="311.9" r="1.7"/><circle cx="234.5" cy="302" r="1.7"/><circle cx="233" cy="304.8" r="1.7"/><circle cx="241.5" cy="304.5" r="1.7"/><circle cx="241" cy="307.8" r="1.7"/><circle cx="250" cy="307.5" r="1.7"/><circle cx="234.5" cy="311.5" r="1.7"/><circle cx="238" cy="312" r="1.7"/><circle cx="253.5" cy="314.3" r="1.7"/><circle cx="208.5" cy="315" r="1.7"/><circle cx="217" cy="315" r="1.7"/><circle cx="212" cy="314.5" r="1.7"/><circle cx="190.5" cy="325.5" r="1.7"/><circle cx="204.5" cy="323.5" r="1.7"/><circle cx="210" cy="320" r="1.7"/><circle cx="216" cy="323.5" r="1.7"/><circle cx="219.75" cy="322.4" r="1.7"/><circle cx="223" cy="323" r="1.7"/><circle cx="219.5" cy="328" r="1.7"/><circle cx="224.5" cy="328" r="1.7"/><circle cx="217" cy="331" r="1.7"/><circle cx="215.5" cy="334.5" r="1.7"/><circle cx="213" cy="335.5" r="1.7"/><circle cx="225" cy="335.5" r="1.7"/><circle cx="208" cy="336" r="1.7"/><circle cx="207.5" cy="339" r="1.7"/><circle cx="220.4" cy="337.5" r="1.7"/><circle cx="214.5" cy="341.5" r="1.7"/><circle cx="203" cy="343" r="1.7"/><circle cx="201.5" cy="345.8" r="1.7"/><circle cx="195" cy="346" r="1.7"/><circle cx="226.5" cy="315.5" r="1.7"/><circle cx="230.5" cy="317.2" r="1.7"/><circle cx="232.2" cy="316" r="1.7"/><circle cx="237" cy="318.8" r="1.7"/><circle cx="244.2" cy="316.2" r="1.7"/><circle cx="263.2" cy="316.5" r="1.7"/><circle cx="225.8" cy="325.5" r="1.7"/><circle cx="230.8" cy="324.5" r="1.7"/><circle cx="232.8" cy="328.8" r="1.7"/><circle cx="234.8" cy="330" r="1.7"/><circle cx="233.5" cy="331.8" r="1.7"/><circle cx="226" cy="332" r="1.7"/><circle cx="226.8" cy="333" r="1.7"/><circle cx="238.2" cy="335.2" r="1.7"/><circle cx="245" cy="329.5" r="1.7"/><circle cx="245.8" cy="332.5" r="1.7"/><circle cx="245.8" cy="336.5" r="1.7"/><circle cx="234" cy="341" r="1.7"/></g>
<g fill="#00b0f0"><circle cx="180.29" cy="345.37" r="1.7"/><circle cx="183.15" cy="348.82" r="1.7"/><circle cx="200.4" cy="336.13" r="1.7"/><circle cx="193.87" cy="341.34" r="1.7"/><circle cx="198.12" cy="335.14" r="1.7"/><circle cx="176.22" cy="349.2" r="1.7"/><circle cx="179.81" cy="349.33" r="1.7"/><circle cx="176.16" cy="348.43" r="1.7"/><circle cx="186.51" cy="345.77" r="1.7"/><circle cx="180.92" cy="348.04" r="1.7"/><circle cx="179.27" cy="348.16" r="1.7"/><circle cx="196.14" cy="335.67" r="1.7"/><circle cx="212.16" cy="324.95" r="1.7"/><circle cx="180.73" cy="344.29" r="1.7"/><circle cx="193.29" cy="345.75" r="1.7"/><circle cx="183.19" cy="341.37" r="1.7"/><circle cx="177.23" cy="349.15" r="1.7"/><circle cx="192.38" cy="334.74" r="1.7"/><circle cx="182.01" cy="344.69" r="1.7"/><circle cx="184.14" cy="343.89" r="1.7"/><circle cx="186.58" cy="340.17" r="1.7"/><circle cx="202.39" cy="325.72" r="1.7"/><circle cx="193.86" cy="340.55" r="1.7"/><circle cx="177.21" cy="346.93" r="1.7"/><circle cx="181.93" cy="343.57" r="1.7"/><circle cx="197.55" cy="330.25" r="1.7"/><circle cx="203.66" cy="333.33" r="1.7"/><circle cx="198.43" cy="341.94" r="1.7"/><circle cx="206.02" cy="327.04" r="1.7"/><circle cx="183.21" cy="346.19" r="1.7"/><circle cx="176.29" cy="349.01" r="1.7"/><circle cx="185.36" cy="346.79" r="1.7"/><circle cx="203.19" cy="327.28" r="1.7"/><circle cx="180.8" cy="346.64" r="1.7"/><circle cx="173.92" cy="348.34" r="1.7"/><circle cx="199.45" cy="339.04" r="1.7"/><circle cx="173.94" cy="348.94" r="1.7"/><circle cx="185.11" cy="347.19" r="1.7"/><circle cx="180.96" cy="347.75" r="1.7"/><circle cx="192.84" cy="339.93" r="1.7"/><circle cx="176.91" cy="346.39" r="1.7"/><circle cx="208.48" cy="325.41" r="1.7"/><circle cx="189.08" cy="340.3" r="1.7"/><circle cx="190.42" cy="345.08" r="1.7"/><circle cx="187.06" cy="345.11" r="1.7"/><circle cx="175.94" cy="349.62" r="1.7"/><circle cx="200.65" cy="332.62" r="1.7"/><circle cx="198.53" cy="340.95" r="1.7"/><circle cx="180.7" cy="344.82" r="1.7"/><circle cx="182.63" cy="346.68" r="1.7"/><circle cx="193.5" cy="335.82" r="1.7"/><circle cx="182.09" cy="349.04" r="1.7"/><circle cx="188.06" cy="340.49" r="1.7"/><circle cx="187.48" cy="341.2" r="1.7"/><circle cx="185.93" cy="343.37" r="1.7"/><circle cx="178.26" cy="351.91" r="1.7"/><circle cx="174.78" cy="348.03" r="1.7"/><circle cx="185.21" cy="340.03" r="1.7"/><circle cx="200.07" cy="330.17" r="1.7"/><circle cx="180.63" cy="345.79" r="1.7"/><circle cx="191.14" cy="340.87" r="1.7"/><circle cx="186.43" cy="341.99" r="1.7"/><circle cx="182.85" cy="349.43" r="1.7"/><circle cx="178.01" cy="346.82" r="1.7"/><circle cx="197.27" cy="340.93" r="1.7"/><circle cx="176.1" cy="350.07" r="1.7"/><circle cx="199.21" cy="339.01" r="1.7"/><circle cx="186.55" cy="340.32" r="1.7"/><circle cx="185.21" cy="342.94" r="1.7"/><circle cx="194.39" cy="332.05" r="1.7"/><circle cx="176.39" cy="349.1" r="1.7"/><circle cx="193.65" cy="335.81" r="1.7"/><circle cx="178.65" cy="347.08" r="1.7"/><circle cx="191.06" cy="345.73" r="1.7"/><circle cx="193.94" cy="333.13" r="1.7"/><circle cx="177.85" cy="346.58" r="1.7"/><circle cx="175.22" cy="352.95" r="1.7"/><circle cx="202.09" cy="327.06" r="1.7"/><circle cx="177.2" cy="349.47" r="1.7"/><circle cx="184.26" cy="340.79" r="1.7"/><circle cx="191.55" cy="338.95" r="1.7"/><circle cx="188.88" cy="345.71" r="1.7"/><circle cx="175.83" cy="351.59" r="1.7"/><circle cx="191.53" cy="334.93" r="1.7"/><circle cx="189.73" cy="341.04" r="1.7"/><circle cx="187.71" cy="341.19" r="1.7"/><circle cx="178.75" cy="350.09" r="1.7"/><circle cx="199.44" cy="328.13" r="1.7"/><circle cx="188.54" cy="339.47" r="1.7"/><circle cx="189.14" cy="336.8" r="1.7"/><circle cx="191.18" cy="334.19" r="1.7"/><circle cx="174.5" cy="352.05" r="1.7"/><circle cx="189.92" cy="341.39" r="1.7"/><circle cx="201.71" cy="328.95" r="1.7"/><circle cx="175.52" cy="348.63" r="1.7"/><circle cx="178.43" cy="349.36" r="1.7"/><circle cx="195.61" cy="335.77" r="1.7"/><circle cx="182.54" cy="344.31" r="1.7"/><circle cx="197.41" cy="333.67" r="1.7"/><circle cx="178.5" cy="350.57" r="1.7"/><circle cx="177.06" cy="350.93" r="1.7"/><circle cx="175.99" cy="352.78" r="1.7"/><circle cx="196.74" cy="331.62" r="1.7"/><circle cx="186.88" cy="343.03" r="1.7"/><circle cx="187.96" cy="346.19" r="1.7"/><circle cx="191.55" cy="334.67" r="1.7"/><circle cx="188.46" cy="345.69" r="1.7"/><circle cx="180.78" cy="345.89" r="1.7"/><circle cx="175.19" cy="352.42" r="1.7"/><circle cx="191.77" cy="339.61" r="1.7"/><circle cx="200.34" cy="335.81" r="1.7"/><circle cx="188.6" cy="341.32" r="1.7"/><circle cx="204.08" cy="332.86" r="1.7"/><circle cx="190.76" cy="341.68" r="1.7"/><circle cx="205.72" cy="325.29" r="1.7"/><circle cx="180.73" cy="346.6" r="1.7"/><circle cx="185.29" cy="344.67" r="1.7"/><circle cx="179.03" cy="345.11" r="1.7"/><circle cx="198.72" cy="334.13" r="1.7"/><circle cx="199.69" cy="328.33" r="1.7"/><circle cx="210.45" cy="328" r="1.7"/><circle cx="184.35" cy="343.23" r="1.7"/><circle cx="174.89" cy="350.51" r="1.7"/><circle cx="174.71" cy="348.84" r="1.7"/><circle cx="176.31" cy="349.53" r="1.7"/><circle cx="195.18" cy="342.79" r="1.7"/><circle cx="176.53" cy="348.53" r="1.7"/><circle cx="180.43" cy="343.52" r="1.7"/><circle cx="179.49" cy="349.57" r="1.7"/><circle cx="210.78" cy="327.16" r="1.7"/><circle cx="195.92" cy="337.95" r="1.7"/><circle cx="190.2" cy="343.89" r="1.7"/><circle cx="187.26" cy="340.7" r="1.7"/><circle cx="209.62" cy="329.25" r="1.7"/><circle cx="182.95" cy="344.19" r="1.7"/><circle cx="195.11" cy="331.39" r="1.7"/><circle cx="188.21" cy="345.66" r="1.7"/><circle cx="183.48" cy="346.78" r="1.7"/><circle cx="206.86" cy="333.3" r="1.7"/><circle cx="176.12" cy="349.22" r="1.7"/><circle cx="194.59" cy="344.94" r="1.7"/><circle cx="188" cy="339.01" r="1.7"/><circle cx="174.62" cy="348.75" r="1.7"/><circle cx="181.6" cy="348.43" r="1.7"/><circle cx="194.3" cy="340.55" r="1.7"/></g>
<line x1="175" y1="349.2" x2="263.5" y2="301.2" stroke="#f01e2c" stroke-width="1.25"/>
<circle cx="184.4" cy="280.9" r="2.75" fill="#00b0f0"/>
<text transform="translate(197.5,283.8) scale(0.9278,1)" text-anchor="start">ANN</text>
<text transform="translate(181.5,295) scale(0.9278,1)" text-anchor="start">R=0.8258</text>
<rect x="300.2" y="273.2" width="105.1" height="85.1" fill="none" stroke="#8a8a8a" stroke-width="1"/>
<line x1="298.7" y1="346.14" x2="300.2" y2="346.14" stroke="#8a8a8a" stroke-width="1"/>
<text transform="translate(297.4,349.24) scale(0.9278,1)" text-anchor="end">500</text>
<line x1="298.7" y1="321.83" x2="300.2" y2="321.83" stroke="#8a8a8a" stroke-width="1"/>
<text transform="translate(297.4,324.93) scale(0.9278,1)" text-anchor="end">1500</text>
<line x1="298.7" y1="297.51" x2="300.2" y2="297.51" stroke="#8a8a8a" stroke-width="1"/>
<text transform="translate(297.4,300.61) scale(0.9278,1)" text-anchor="end">2500</text>
<line x1="298.7" y1="273.2" x2="300.2" y2="273.2" stroke="#8a8a8a" stroke-width="1"/>
<text transform="translate(297.4,276.3) scale(0.9278,1)" text-anchor="end">3500</text>
<line x1="315.21" y1="358.3" x2="315.21" y2="359.8" stroke="#8a8a8a" stroke-width="1"/>
<text transform="translate(315.21,368.5) scale(0.9278,1)" text-anchor="middle">500</text>
<line x1="345.24" y1="358.3" x2="345.24" y2="359.8" stroke="#8a8a8a" stroke-width="1"/>
<text transform="translate(345.24,368.5) scale(0.9278,1)" text-anchor="middle">1500</text>
<line x1="375.27" y1="358.3" x2="375.27" y2="359.8" stroke="#8a8a8a" stroke-width="1"/>
<text transform="translate(375.27,368.5) scale(0.9278,1)" text-anchor="middle">2500</text>
<line x1="405.3" y1="358.3" x2="405.3" y2="359.8" stroke="#8a8a8a" stroke-width="1"/>
<text transform="translate(405.3,368.5) scale(0.9278,1)" text-anchor="middle">3500</text>
<text transform="translate(357.1,376.7) scale(0.9278,1)" text-anchor="middle">Observed(m<tspan font-size="6.3" dy="-3.4">3</tspan><tspan dy="3.4">/s)</tspan></text>
<g fill="#f75ff7"><circle cx="354.1" cy="286.5" r="1.7"/><circle cx="352.65" cy="298.2" r="1.7"/><circle cx="346.2" cy="299.5" r="1.7"/><circle cx="351.2" cy="301.65" r="1.7"/><circle cx="347" cy="303.2" r="1.7"/><circle cx="344.5" cy="305.8" r="1.7"/><circle cx="355" cy="309.35" r="1.7"/><circle cx="344" cy="311.8" r="1.7"/><circle cx="338" cy="312.8" r="1.7"/><circle cx="339.5" cy="313.5" r="1.7"/><circle cx="355.15" cy="311.9" r="1.7"/><circle cx="362.5" cy="299.5" r="1.7"/><circle cx="364.2" cy="303.2" r="1.7"/><circle cx="370.5" cy="303.8" r="1.7"/><circle cx="371" cy="305.2" r="1.7"/><circle cx="379.8" cy="303.5" r="1.7"/><circle cx="367.5" cy="307.8" r="1.7"/><circle cx="361.8" cy="310.2" r="1.7"/><circle cx="364.5" cy="311.8" r="1.7"/><circle cx="382.8" cy="312" r="1.7"/><circle cx="392.8" cy="313.8" r="1.7"/><circle cx="364.5" cy="313.5" r="1.7"/><circle cx="331.5" cy="316.2" r="1.7"/><circle cx="337.5" cy="318" r="1.7"/><circle cx="340.5" cy="320" r="1.7"/><circle cx="346.5" cy="316.2" r="1.7"/><circle cx="320" cy="325.8" r="1.7"/><circle cx="334" cy="323" r="1.7"/><circle cx="338.5" cy="321.5" r="1.7"/><circle cx="339.5" cy="323" r="1.7"/><circle cx="349.75" cy="321.9" r="1.7"/><circle cx="350" cy="323.5" r="1.7"/><circle cx="354.1" cy="326" r="1.7"/><circle cx="349" cy="327.5" r="1.7"/><circle cx="355.4" cy="331.5" r="1.7"/><circle cx="354.85" cy="335.65" r="1.7"/><circle cx="345" cy="334" r="1.7"/><circle cx="343" cy="336" r="1.7"/><circle cx="338" cy="337" r="1.7"/><circle cx="337" cy="339" r="1.7"/><circle cx="350" cy="340" r="1.7"/><circle cx="344" cy="343.5" r="1.7"/><circle cx="333" cy="344" r="1.7"/><circle cx="331" cy="346" r="1.7"/><circle cx="324" cy="346.5" r="1.7"/><circle cx="360" cy="319.8" r="1.7"/><circle cx="366.5" cy="319.8" r="1.7"/><circle cx="373.8" cy="316.5" r="1.7"/><circle cx="360.2" cy="326" r="1.7"/><circle cx="362.2" cy="330.8" r="1.7"/><circle cx="364.5" cy="329.8" r="1.7"/><circle cx="363" cy="333.5" r="1.7"/><circle cx="374.5" cy="331" r="1.7"/><circle cx="375.2" cy="332.5" r="1.7"/><circle cx="356.8" cy="335.8" r="1.7"/><circle cx="367.8" cy="335.5" r="1.7"/><circle cx="375.5" cy="336.5" r="1.7"/><circle cx="363.5" cy="343.2" r="1.7"/></g>
<g fill="#f75ff7"><circle cx="307.35" cy="352.41" r="1.7"/><circle cx="327.55" cy="345.03" r="1.7"/><circle cx="313.19" cy="344.91" r="1.7"/><circle cx="306.81" cy="350.16" r="1.7"/><circle cx="317.82" cy="347.74" r="1.7"/><circle cx="325.11" cy="339.1" r="1.7"/><circle cx="309.2" cy="350.18" r="1.7"/><circle cx="328.21" cy="339.93" r="1.7"/><circle cx="312.16" cy="348.78" r="1.7"/><circle cx="307.01" cy="347.39" r="1.7"/><circle cx="319.59" cy="343.16" r="1.7"/><circle cx="309.29" cy="348.11" r="1.7"/><circle cx="324.11" cy="338.38" r="1.7"/><circle cx="320.39" cy="336.83" r="1.7"/><circle cx="323.42" cy="341.11" r="1.7"/><circle cx="326.21" cy="336.71" r="1.7"/><circle cx="321.68" cy="347.02" r="1.7"/><circle cx="317.62" cy="349.24" r="1.7"/><circle cx="325.3" cy="332.87" r="1.7"/><circle cx="320.52" cy="345.89" r="1.7"/><circle cx="306.59" cy="350.45" r="1.7"/><circle cx="320.49" cy="340.17" r="1.7"/><circle cx="304.48" cy="351" r="1.7"/><circle cx="310.62" cy="349.56" r="1.7"/><circle cx="315.83" cy="344.17" r="1.7"/><circle cx="333.61" cy="328.28" r="1.7"/><circle cx="311.36" cy="348.7" r="1.7"/><circle cx="320.02" cy="338.22" r="1.7"/><circle cx="308.07" cy="349.13" r="1.7"/><circle cx="329.37" cy="336.03" r="1.7"/><circle cx="310.64" cy="349.16" r="1.7"/><circle cx="322.75" cy="345.24" r="1.7"/><circle cx="307.04" cy="351.33" r="1.7"/><circle cx="308.84" cy="346.49" r="1.7"/><circle cx="321.14" cy="338.89" r="1.7"/><circle cx="320.66" cy="337.31" r="1.7"/><circle cx="314.5" cy="347.34" r="1.7"/><circle cx="325.86" cy="340.48" r="1.7"/><circle cx="324.01" cy="341.86" r="1.7"/><circle cx="311.81" cy="343.04" r="1.7"/><circle cx="316.57" cy="343.12" r="1.7"/><circle cx="319.22" cy="343.1" r="1.7"/><circle cx="308.31" cy="349.82" r="1.7"/><circle cx="312.89" cy="344.91" r="1.7"/><circle cx="304.63" cy="349.91" r="1.7"/><circle cx="324.5" cy="342.45" r="1.7"/><circle cx="325.84" cy="338.91" r="1.7"/><circle cx="313.47" cy="346.73" r="1.7"/><circle cx="326.49" cy="333.04" r="1.7"/><circle cx="316.05" cy="339.64" r="1.7"/><circle cx="320.48" cy="338.43" r="1.7"/><circle cx="313.32" cy="347.45" r="1.7"/><circle cx="305.56" cy="351.81" r="1.7"/><circle cx="309.21" cy="345.9" r="1.7"/><circle cx="312.23" cy="343.22" r="1.7"/><circle cx="332.01" cy="337.17" r="1.7"/><circle cx="321.54" cy="335.99" r="1.7"/><circle cx="324.25" cy="339.42" r="1.7"/><circle cx="315.3" cy="348.86" r="1.7"/><circle cx="308.19" cy="345.72" r="1.7"/><circle cx="313.74" cy="347.65" r="1.7"/><circle cx="307.38" cy="350.68" r="1.7"/><circle cx="328.56" cy="329.22" r="1.7"/><circle cx="304.4" cy="350.55" r="1.7"/><circle cx="323.45" cy="339.9" r="1.7"/><circle cx="322.56" cy="338.54" r="1.7"/><circle cx="316.92" cy="347.28" r="1.7"/><circle cx="306.34" cy="352.76" r="1.7"/><circle cx="325.96" cy="343.06" r="1.7"/><circle cx="334.2" cy="327.58" r="1.7"/><circle cx="312.74" cy="349.19" r="1.7"/><circle cx="317.58" cy="347.45" r="1.7"/><circle cx="339.07" cy="324.26" r="1.7"/><circle cx="306.46" cy="351.81" r="1.7"/><circle cx="307.48" cy="349.45" r="1.7"/><circle cx="319.7" cy="346.14" r="1.7"/><circle cx="313.77" cy="344.1" r="1.7"/><circle cx="315.33" cy="348.01" r="1.7"/><circle cx="330.48" cy="338.75" r="1.7"/><circle cx="321" cy="347.02" r="1.7"/><circle cx="318.89" cy="343.21" r="1.7"/><circle cx="323.49" cy="338.94" r="1.7"/><circle cx="329.92" cy="330.75" r="1.7"/><circle cx="324.73" cy="344.68" r="1.7"/><circle cx="307.16" cy="351.85" r="1.7"/><circle cx="317.31" cy="339.26" r="1.7"/><circle cx="311.74" cy="348.25" r="1.7"/><circle cx="314.86" cy="341.46" r="1.7"/><circle cx="331.88" cy="337.16" r="1.7"/><circle cx="303.83" cy="351.51" r="1.7"/><circle cx="312.75" cy="345.65" r="1.7"/><circle cx="319.21" cy="344.15" r="1.7"/><circle cx="307.16" cy="346.78" r="1.7"/><circle cx="324.27" cy="332.24" r="1.7"/><circle cx="308.74" cy="350.61" r="1.7"/><circle cx="318.27" cy="339.66" r="1.7"/><circle cx="320.08" cy="339.14" r="1.7"/><circle cx="307.68" cy="350.49" r="1.7"/><circle cx="319.57" cy="340.53" r="1.7"/><circle cx="322.68" cy="337.71" r="1.7"/><circle cx="330.49" cy="327.62" r="1.7"/><circle cx="305.39" cy="354.31" r="1.7"/><circle cx="312.55" cy="344.92" r="1.7"/><circle cx="340.82" cy="329.03" r="1.7"/><circle cx="305.98" cy="352.13" r="1.7"/><circle cx="319.98" cy="334.6" r="1.7"/><circle cx="332.88" cy="336.96" r="1.7"/><circle cx="319.97" cy="341.59" r="1.7"/><circle cx="311.9" cy="345.9" r="1.7"/><circle cx="324.89" cy="345.25" r="1.7"/><circle cx="309.2" cy="347.73" r="1.7"/><circle cx="319.55" cy="348.41" r="1.7"/><circle cx="308.66" cy="347.26" r="1.7"/><circle cx="305.46" cy="354.22" r="1.7"/><circle cx="306.93" cy="351.01" r="1.7"/><circle cx="321.29" cy="335.5" r="1.7"/><circle cx="305.89" cy="349.22" r="1.7"/><circle cx="315.85" cy="340.56" r="1.7"/><circle cx="336.38" cy="325.47" r="1.7"/><circle cx="305.37" cy="352.57" r="1.7"/><circle cx="321.85" cy="339.83" r="1.7"/><circle cx="324.42" cy="337.7" r="1.7"/><circle cx="313.87" cy="345.94" r="1.7"/><circle cx="324.69" cy="345.91" r="1.7"/><circle cx="326.23" cy="343.2" r="1.7"/><circle cx="304.3" cy="353.12" r="1.7"/><circle cx="330.75" cy="335.35" r="1.7"/><circle cx="307.21" cy="349.93" r="1.7"/><circle cx="309.14" cy="352.39" r="1.7"/><circle cx="308.56" cy="349.41" r="1.7"/><circle cx="316.98" cy="349.33" r="1.7"/><circle cx="303.99" cy="350.06" r="1.7"/><circle cx="309.81" cy="347.94" r="1.7"/><circle cx="311.24" cy="346.24" r="1.7"/><circle cx="309.01" cy="350.28" r="1.7"/><circle cx="312.85" cy="350.34" r="1.7"/><circle cx="304.74" cy="353.28" r="1.7"/><circle cx="319.6" cy="341.71" r="1.7"/><circle cx="310.97" cy="349.03" r="1.7"/><circle cx="308.01" cy="346.49" r="1.7"/><circle cx="314.96" cy="345.91" r="1.7"/><circle cx="313.99" cy="344.08" r="1.7"/><circle cx="333.24" cy="337.43" r="1.7"/><circle cx="324.53" cy="334.94" r="1.7"/><circle cx="330.12" cy="337.17" r="1.7"/><circle cx="323.99" cy="342.02" r="1.7"/><circle cx="322.42" cy="345.2" r="1.7"/><circle cx="317.45" cy="345.42" r="1.7"/><circle cx="308.5" cy="351.66" r="1.7"/></g>
<line x1="304.5" y1="350.5" x2="392.8" y2="300.2" stroke="#f01e2c" stroke-width="1.25"/>
<circle cx="314.1" cy="280.9" r="2.75" fill="#f75ff7"/>
<text transform="translate(326.4,283.8) scale(0.9278,1)" text-anchor="start">GPR</text>
<text transform="translate(312.2,295.3) scale(0.9278,1)" text-anchor="start">R=0.8235</text>
<rect x="431.4" y="274" width="105" height="84.6" fill="none" stroke="#8a8a8a" stroke-width="1"/>
<line x1="429.9" y1="346.51" x2="431.4" y2="346.51" stroke="#8a8a8a" stroke-width="1"/>
<text transform="translate(428.6,349.61) scale(0.9278,1)" text-anchor="end">500</text>
<line x1="429.9" y1="322.34" x2="431.4" y2="322.34" stroke="#8a8a8a" stroke-width="1"/>
<text transform="translate(428.6,325.44) scale(0.9278,1)" text-anchor="end">1500</text>
<line x1="429.9" y1="298.17" x2="431.4" y2="298.17" stroke="#8a8a8a" stroke-width="1"/>
<text transform="translate(428.6,301.27) scale(0.9278,1)" text-anchor="end">2500</text>
<line x1="429.9" y1="274" x2="431.4" y2="274" stroke="#8a8a8a" stroke-width="1"/>
<text transform="translate(428.6,277.1) scale(0.9278,1)" text-anchor="end">3500</text>
<line x1="446.4" y1="358.6" x2="446.4" y2="360.1" stroke="#8a8a8a" stroke-width="1"/>
<text transform="translate(446.4,368.8) scale(0.9278,1)" text-anchor="middle">500</text>
<line x1="476.4" y1="358.6" x2="476.4" y2="360.1" stroke="#8a8a8a" stroke-width="1"/>
<text transform="translate(476.4,368.8) scale(0.9278,1)" text-anchor="middle">1500</text>
<line x1="506.4" y1="358.6" x2="506.4" y2="360.1" stroke="#8a8a8a" stroke-width="1"/>
<text transform="translate(506.4,368.8) scale(0.9278,1)" text-anchor="middle">2500</text>
<line x1="536.4" y1="358.6" x2="536.4" y2="360.1" stroke="#8a8a8a" stroke-width="1"/>
<text transform="translate(536.4,368.8) scale(0.9278,1)" text-anchor="middle">3500</text>
<text transform="translate(487.9,376.8) scale(0.9278,1)" text-anchor="middle">Observed(m<tspan font-size="6.3" dy="-3.4">3</tspan><tspan dy="3.4">/s)</tspan></text>
<g fill="#3d5cff"><circle cx="485.65" cy="291.9" r="1.7"/><circle cx="478" cy="301.2" r="1.7"/><circle cx="478.8" cy="304.5" r="1.7"/><circle cx="482.9" cy="306.5" r="1.7"/><circle cx="484.35" cy="303.5" r="1.7"/><circle cx="476" cy="308.5" r="1.7"/><circle cx="476" cy="312.2" r="1.7"/><circle cx="469.5" cy="313.2" r="1.7"/><circle cx="485.5" cy="312.8" r="1.7"/><circle cx="494.2" cy="300.2" r="1.7"/><circle cx="495.8" cy="305.2" r="1.7"/><circle cx="502.5" cy="305.8" r="1.7"/><circle cx="502" cy="307.2" r="1.7"/><circle cx="499" cy="309" r="1.7"/><circle cx="511.8" cy="304.2" r="1.7"/><circle cx="487.2" cy="312.2" r="1.7"/><circle cx="493" cy="312.5" r="1.7"/><circle cx="496" cy="313.2" r="1.7"/><circle cx="524.5" cy="313.8" r="1.7"/><circle cx="514.5" cy="313.8" r="1.7"/><circle cx="463" cy="316.2" r="1.7"/><circle cx="472" cy="319" r="1.7"/><circle cx="471" cy="320.5" r="1.7"/><circle cx="478.5" cy="317.5" r="1.7"/><circle cx="451.8" cy="325.5" r="1.7"/><circle cx="465.5" cy="323.2" r="1.7"/><circle cx="470" cy="324" r="1.7"/><circle cx="478" cy="326" r="1.7"/><circle cx="481.25" cy="322.35" r="1.7"/><circle cx="481.25" cy="327.25" r="1.7"/><circle cx="485.5" cy="328.9" r="1.7"/><circle cx="477" cy="334" r="1.7"/><circle cx="474" cy="337" r="1.7"/><circle cx="469" cy="335.5" r="1.7"/><circle cx="468.5" cy="339.5" r="1.7"/><circle cx="481.4" cy="339.5" r="1.7"/><circle cx="475.5" cy="343.5" r="1.7"/><circle cx="464.5" cy="343.5" r="1.7"/><circle cx="463" cy="347" r="1.7"/><circle cx="455.5" cy="347.5" r="1.7"/><circle cx="496" cy="316.2" r="1.7"/><circle cx="505.5" cy="318.5" r="1.7"/><circle cx="514.5" cy="316.2" r="1.7"/><circle cx="491.5" cy="322.5" r="1.7"/><circle cx="498.2" cy="323.8" r="1.7"/><circle cx="492" cy="325.8" r="1.7"/><circle cx="487" cy="331" r="1.7"/><circle cx="487.2" cy="332.5" r="1.7"/><circle cx="494" cy="330.5" r="1.7"/><circle cx="495.5" cy="332.2" r="1.7"/><circle cx="494.5" cy="333" r="1.7"/><circle cx="487.5" cy="335.2" r="1.7"/><circle cx="499.5" cy="335.2" r="1.7"/><circle cx="506.2" cy="330.5" r="1.7"/><circle cx="506.8" cy="332.5" r="1.7"/><circle cx="507" cy="336.5" r="1.7"/><circle cx="495.2" cy="343" r="1.7"/></g>
<g fill="#3d5cff"><circle cx="445.33" cy="348.87" r="1.7"/><circle cx="447.65" cy="344.7" r="1.7"/><circle cx="443.8" cy="346.58" r="1.7"/><circle cx="435.45" cy="351.92" r="1.7"/><circle cx="464.59" cy="333.65" r="1.7"/><circle cx="443.1" cy="347.57" r="1.7"/><circle cx="460.25" cy="338.94" r="1.7"/><circle cx="459.24" cy="339.47" r="1.7"/><circle cx="437.39" cy="352.8" r="1.7"/><circle cx="457.31" cy="344.91" r="1.7"/><circle cx="455.89" cy="344.11" r="1.7"/><circle cx="446.78" cy="349.71" r="1.7"/><circle cx="447.09" cy="344.43" r="1.7"/><circle cx="443.28" cy="349.67" r="1.7"/><circle cx="453.7" cy="342.19" r="1.7"/><circle cx="453.35" cy="347" r="1.7"/><circle cx="440.12" cy="351.71" r="1.7"/><circle cx="461.86" cy="340.71" r="1.7"/><circle cx="469.59" cy="327.47" r="1.7"/><circle cx="439.69" cy="350.63" r="1.7"/><circle cx="441.15" cy="347.74" r="1.7"/><circle cx="442.67" cy="349.75" r="1.7"/><circle cx="471.36" cy="322.84" r="1.7"/><circle cx="459.88" cy="331.33" r="1.7"/><circle cx="453.2" cy="340.24" r="1.7"/><circle cx="437.8" cy="353.44" r="1.7"/><circle cx="445.77" cy="343.32" r="1.7"/><circle cx="437.51" cy="347.99" r="1.7"/><circle cx="462.53" cy="335.32" r="1.7"/><circle cx="442.47" cy="352.31" r="1.7"/><circle cx="455.83" cy="338.47" r="1.7"/><circle cx="448.54" cy="349.77" r="1.7"/><circle cx="440.48" cy="348.47" r="1.7"/><circle cx="438.67" cy="353.28" r="1.7"/><circle cx="436.25" cy="350.88" r="1.7"/><circle cx="439.33" cy="347.29" r="1.7"/><circle cx="458.31" cy="343.23" r="1.7"/><circle cx="463.59" cy="336.71" r="1.7"/><circle cx="454.33" cy="337.03" r="1.7"/><circle cx="439.09" cy="348.6" r="1.7"/><circle cx="470.16" cy="328.77" r="1.7"/><circle cx="442.83" cy="345.41" r="1.7"/><circle cx="439.52" cy="352.42" r="1.7"/><circle cx="438.1" cy="352.5" r="1.7"/><circle cx="439.71" cy="351.14" r="1.7"/><circle cx="445.44" cy="346.03" r="1.7"/><circle cx="445.88" cy="344.1" r="1.7"/><circle cx="442.22" cy="348.34" r="1.7"/><circle cx="452.33" cy="336.39" r="1.7"/><circle cx="458.37" cy="335.03" r="1.7"/><circle cx="442.97" cy="343.96" r="1.7"/><circle cx="444.49" cy="342.84" r="1.7"/><circle cx="457.48" cy="344.38" r="1.7"/><circle cx="437.08" cy="351.57" r="1.7"/><circle cx="436.51" cy="350.09" r="1.7"/><circle cx="469.38" cy="330.73" r="1.7"/><circle cx="462.29" cy="337.93" r="1.7"/><circle cx="434.9" cy="350.45" r="1.7"/><circle cx="448.79" cy="343.22" r="1.7"/><circle cx="451.13" cy="337.89" r="1.7"/><circle cx="437.51" cy="352.11" r="1.7"/><circle cx="472.56" cy="325.63" r="1.7"/><circle cx="466.62" cy="328.01" r="1.7"/><circle cx="442.68" cy="351.01" r="1.7"/><circle cx="454.82" cy="336.45" r="1.7"/><circle cx="445.75" cy="349.43" r="1.7"/><circle cx="437.6" cy="349.92" r="1.7"/><circle cx="451.25" cy="337.74" r="1.7"/><circle cx="450.89" cy="340.86" r="1.7"/><circle cx="463.04" cy="332.28" r="1.7"/><circle cx="447.54" cy="341.25" r="1.7"/><circle cx="444.24" cy="345.25" r="1.7"/><circle cx="464.77" cy="338.56" r="1.7"/><circle cx="436.24" cy="351.02" r="1.7"/><circle cx="454.2" cy="335.37" r="1.7"/><circle cx="442.01" cy="351.03" r="1.7"/><circle cx="445.4" cy="350.71" r="1.7"/><circle cx="440.79" cy="346.5" r="1.7"/><circle cx="451.13" cy="341.39" r="1.7"/><circle cx="457.31" cy="333.1" r="1.7"/><circle cx="455.27" cy="338.53" r="1.7"/><circle cx="444.79" cy="347.87" r="1.7"/><circle cx="450.98" cy="347.98" r="1.7"/><circle cx="453.97" cy="335.34" r="1.7"/><circle cx="466.13" cy="330.48" r="1.7"/><circle cx="446.24" cy="343.43" r="1.7"/><circle cx="452.32" cy="343.35" r="1.7"/><circle cx="438.85" cy="349.17" r="1.7"/><circle cx="444.04" cy="349.07" r="1.7"/><circle cx="469.04" cy="334.88" r="1.7"/><circle cx="448.58" cy="345.12" r="1.7"/><circle cx="443.33" cy="344.45" r="1.7"/><circle cx="454.3" cy="343" r="1.7"/><circle cx="457.36" cy="334.37" r="1.7"/><circle cx="449.82" cy="342.37" r="1.7"/><circle cx="446.7" cy="345.94" r="1.7"/><circle cx="454.62" cy="346.17" r="1.7"/><circle cx="440.53" cy="345.67" r="1.7"/><circle cx="455.21" cy="345.39" r="1.7"/><circle cx="445.06" cy="347.93" r="1.7"/><circle cx="438.8" cy="349.01" r="1.7"/><circle cx="444.66" cy="342.29" r="1.7"/><circle cx="438.18" cy="350.75" r="1.7"/><circle cx="444.07" cy="345.07" r="1.7"/><circle cx="453.84" cy="339.4" r="1.7"/><circle cx="462.77" cy="333.69" r="1.7"/><circle cx="442.72" cy="346.87" r="1.7"/><circle cx="458.54" cy="338.47" r="1.7"/><circle cx="452.34" cy="345.55" r="1.7"/><circle cx="442.8" cy="345.55" r="1.7"/><circle cx="441.93" cy="346.29" r="1.7"/><circle cx="470.94" cy="329.04" r="1.7"/><circle cx="467.2" cy="325.17" r="1.7"/><circle cx="440.21" cy="347.17" r="1.7"/><circle cx="438.77" cy="347.75" r="1.7"/><circle cx="464.68" cy="326.64" r="1.7"/><circle cx="444.94" cy="349.44" r="1.7"/><circle cx="453.58" cy="335.83" r="1.7"/><circle cx="444.74" cy="346.75" r="1.7"/><circle cx="464.25" cy="330.57" r="1.7"/><circle cx="440.24" cy="349.11" r="1.7"/><circle cx="449.64" cy="344.95" r="1.7"/><circle cx="449.49" cy="339.56" r="1.7"/><circle cx="438.59" cy="351.76" r="1.7"/><circle cx="461.68" cy="337.95" r="1.7"/><circle cx="438.44" cy="351.93" r="1.7"/><circle cx="438.79" cy="349.34" r="1.7"/><circle cx="446" cy="344.28" r="1.7"/><circle cx="457.24" cy="336.98" r="1.7"/><circle cx="438.91" cy="349.38" r="1.7"/><circle cx="446.79" cy="349" r="1.7"/><circle cx="451.17" cy="346.69" r="1.7"/><circle cx="457.32" cy="333.78" r="1.7"/><circle cx="446.74" cy="345.07" r="1.7"/><circle cx="444.52" cy="342.97" r="1.7"/><circle cx="446.21" cy="342.35" r="1.7"/><circle cx="464.14" cy="334.09" r="1.7"/><circle cx="451.43" cy="347.94" r="1.7"/><circle cx="439.77" cy="346.89" r="1.7"/><circle cx="438.44" cy="353.41" r="1.7"/><circle cx="440.91" cy="346.83" r="1.7"/><circle cx="456.08" cy="343.02" r="1.7"/><circle cx="444.98" cy="350.49" r="1.7"/><circle cx="437.13" cy="351.39" r="1.7"/><circle cx="441.27" cy="347.34" r="1.7"/><circle cx="471.46" cy="322.99" r="1.7"/><circle cx="448.52" cy="344.29" r="1.7"/><circle cx="441.58" cy="348.4" r="1.7"/><circle cx="450.04" cy="347.62" r="1.7"/><circle cx="441.94" cy="348.93" r="1.7"/><circle cx="447.49" cy="348.64" r="1.7"/></g>
<line x1="436" y1="350.5" x2="524.5" y2="301.2" stroke="#f01e2c" stroke-width="1.25"/>
<circle cx="445.6" cy="281.4" r="2.75" fill="#3d5cff"/>
<text transform="translate(458.3,284.3) scale(0.9278,1)" text-anchor="start">GPR-CSA</text>
<text transform="translate(444,295.4) scale(0.9278,1)" text-anchor="start">R=0.8313</text>
<text transform="translate(12.4,314.6) rotate(-90) scale(0.9278,1)" text-anchor="middle" font-size="9.92">Forecasted(m<tspan font-size="6.3" dy="-3.4">3</tspan><tspan dy="3.4">/s)</tspan></text>
<text x="273" y="130.2" text-anchor="middle" font-weight="bold" font-size="12.4">(a)</text>
<text x="273" y="262.8" text-anchor="middle" font-weight="bold" font-size="12.4">(b)</text>
<text x="273" y="396.8" text-anchor="middle" font-weight="bold" font-size="12.4">(c)</text>
</svg>
</body></html>
